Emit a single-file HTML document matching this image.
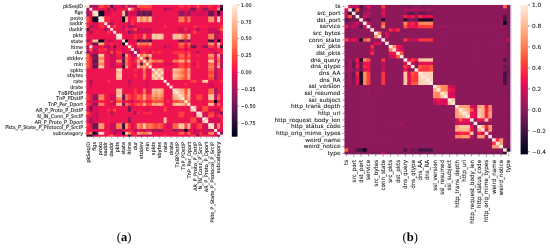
<!DOCTYPE html>
<html><head><meta charset="utf-8"><title>Correlation heatmaps</title>
<style>html,body{margin:0;padding:0;background:#fff;overflow:hidden}svg{display:block}text{text-rendering:geometricPrecision}</style></head>
<body>
<svg width="550" height="249" viewBox="0 0 550 249">
<defs><linearGradient id="rk" x1="0" y1="0" x2="0" y2="1"><stop offset="0.0000" stop-color="#ffebdd"/><stop offset="0.0312" stop-color="#ffe1ce"/><stop offset="0.0625" stop-color="#ffd6bc"/><stop offset="0.0938" stop-color="#ffcaaa"/><stop offset="0.1250" stop-color="#ffbe99"/><stop offset="0.1562" stop-color="#ffb188"/><stop offset="0.1875" stop-color="#ffa479"/><stop offset="0.2188" stop-color="#ff976a"/><stop offset="0.2500" stop-color="#ff895d"/><stop offset="0.2812" stop-color="#ff7b51"/><stop offset="0.3125" stop-color="#ff6c46"/><stop offset="0.3438" stop-color="#ff5c3e"/><stop offset="0.3750" stop-color="#ff4b3b"/><stop offset="0.4062" stop-color="#ff3a3d"/><stop offset="0.4375" stop-color="#ff2c42"/><stop offset="0.4688" stop-color="#f91e49"/><stop offset="0.5000" stop-color="#ed1450"/><stop offset="0.5312" stop-color="#df0f55"/><stop offset="0.5625" stop-color="#d00f59"/><stop offset="0.5938" stop-color="#c1125c"/><stop offset="0.6250" stop-color="#b0155d"/><stop offset="0.6562" stop-color="#a0175c"/><stop offset="0.6875" stop-color="#90195a"/><stop offset="0.7188" stop-color="#801958"/><stop offset="0.7500" stop-color="#711954"/><stop offset="0.7812" stop-color="#61184e"/><stop offset="0.8125" stop-color="#511648"/><stop offset="0.8438" stop-color="#421341"/><stop offset="0.8750" stop-color="#331038"/><stop offset="0.9062" stop-color="#240c2f"/><stop offset="0.9375" stop-color="#140726"/><stop offset="0.9688" stop-color="#05031c"/><stop offset="1.0000" stop-color="#000013"/></linearGradient></defs>
<rect width="550" height="249" fill="#fff"/>
<g>
<rect x="86.40" y="4.90" width="3.97" height="3.88" fill="#ffebdd"/>
<rect x="89.37" y="4.90" width="9.91" height="3.88" fill="#a6175d"/>
<rect x="98.28" y="4.90" width="6.94" height="3.88" fill="#ff4b3b"/>
<rect x="104.22" y="4.90" width="3.97" height="3.88" fill="#f91e49"/>
<rect x="107.19" y="4.90" width="3.97" height="3.88" fill="#ff3140"/>
<rect x="110.16" y="4.90" width="3.97" height="3.88" fill="#511648"/>
<rect x="113.13" y="4.90" width="9.91" height="3.88" fill="#ed1450"/>
<rect x="122.04" y="4.90" width="3.97" height="3.88" fill="#a2175c"/>
<rect x="125.01" y="4.90" width="3.97" height="3.88" fill="#ff3140"/>
<rect x="127.98" y="4.90" width="3.97" height="3.88" fill="#b0155d"/>
<rect x="130.95" y="4.90" width="3.97" height="3.88" fill="#d60f58"/>
<rect x="133.92" y="4.90" width="3.97" height="3.88" fill="#a6175d"/>
<rect x="136.89" y="4.90" width="3.97" height="3.88" fill="#ff6844"/>
<rect x="139.86" y="4.90" width="12.88" height="3.88" fill="#ff513b"/>
<rect x="151.74" y="4.90" width="27.73" height="3.88" fill="#ed1450"/>
<rect x="178.47" y="4.90" width="6.94" height="3.88" fill="#ff3140"/>
<rect x="184.41" y="4.90" width="3.97" height="3.88" fill="#ed1450"/>
<rect x="187.38" y="4.90" width="3.97" height="3.88" fill="#ff3140"/>
<rect x="190.35" y="4.90" width="6.94" height="3.88" fill="#ed1450"/>
<rect x="196.29" y="4.90" width="3.97" height="3.88" fill="#ff4b3b"/>
<rect x="199.26" y="4.90" width="9.91" height="3.88" fill="#ed1450"/>
<rect x="208.17" y="4.90" width="3.97" height="3.88" fill="#ff3140"/>
<rect x="211.14" y="4.90" width="3.97" height="3.88" fill="#f91e49"/>
<rect x="214.11" y="4.90" width="3.97" height="3.88" fill="#ed1450"/>
<rect x="217.08" y="4.90" width="3.97" height="3.88" fill="#ff3140"/>
<rect x="220.05" y="4.90" width="3.97" height="3.88" fill="#511648"/>
<rect x="86.40" y="7.79" width="3.97" height="3.88" fill="#a6175d"/>
<rect x="89.37" y="7.79" width="3.97" height="3.88" fill="#ffebdd"/>
<rect x="92.34" y="7.79" width="6.94" height="3.88" fill="#d60f58"/>
<rect x="98.28" y="7.79" width="9.91" height="3.88" fill="#ed1450"/>
<rect x="107.19" y="7.79" width="3.97" height="3.88" fill="#9c185c"/>
<rect x="110.16" y="7.79" width="3.97" height="3.88" fill="#ed1450"/>
<rect x="113.13" y="7.79" width="3.97" height="3.88" fill="#94185b"/>
<rect x="116.10" y="7.79" width="9.91" height="3.88" fill="#ed1450"/>
<rect x="125.01" y="7.79" width="3.97" height="3.88" fill="#f41a4c"/>
<rect x="127.98" y="7.79" width="3.97" height="3.88" fill="#ffddc7"/>
<rect x="130.95" y="7.79" width="3.97" height="3.88" fill="#ff6844"/>
<rect x="133.92" y="7.79" width="3.97" height="3.88" fill="#ed1450"/>
<rect x="136.89" y="7.79" width="3.97" height="3.88" fill="#bb135c"/>
<rect x="139.86" y="7.79" width="12.88" height="3.88" fill="#fb2247"/>
<rect x="151.74" y="7.79" width="12.88" height="3.88" fill="#ed1450"/>
<rect x="163.62" y="7.79" width="3.97" height="3.88" fill="#a2175c"/>
<rect x="166.59" y="7.79" width="6.94" height="3.88" fill="#d20f59"/>
<rect x="172.53" y="7.79" width="18.82" height="3.88" fill="#ed1450"/>
<rect x="190.35" y="7.79" width="6.94" height="3.88" fill="#801958"/>
<rect x="196.29" y="7.79" width="6.94" height="3.88" fill="#ed1450"/>
<rect x="202.23" y="7.79" width="6.94" height="3.88" fill="#98185b"/>
<rect x="208.17" y="7.79" width="9.91" height="3.88" fill="#ed1450"/>
<rect x="217.08" y="7.79" width="3.97" height="3.88" fill="#ff8055"/>
<rect x="220.05" y="7.79" width="3.97" height="3.88" fill="#1a0929"/>
<rect x="86.40" y="10.67" width="3.97" height="3.88" fill="#a6175d"/>
<rect x="89.37" y="10.67" width="3.97" height="3.88" fill="#d60f58"/>
<rect x="92.34" y="10.67" width="3.97" height="3.88" fill="#ffebdd"/>
<rect x="95.31" y="10.67" width="3.97" height="3.88" fill="#ffcdaf"/>
<rect x="98.28" y="10.67" width="6.94" height="3.88" fill="#0d0521"/>
<rect x="104.22" y="10.67" width="3.97" height="3.88" fill="#df0f55"/>
<rect x="107.19" y="10.67" width="3.97" height="3.88" fill="#c8115b"/>
<rect x="110.16" y="10.67" width="12.88" height="3.88" fill="#ed1450"/>
<rect x="122.04" y="10.67" width="3.97" height="3.88" fill="#ffbc97"/>
<rect x="125.01" y="10.67" width="3.97" height="3.88" fill="#6d1952"/>
<rect x="127.98" y="10.67" width="3.97" height="3.88" fill="#df0f55"/>
<rect x="130.95" y="10.67" width="3.97" height="3.88" fill="#c8115b"/>
<rect x="133.92" y="10.67" width="3.97" height="3.88" fill="#ce105a"/>
<rect x="136.89" y="10.67" width="3.97" height="3.88" fill="#721954"/>
<rect x="139.86" y="10.67" width="3.97" height="3.88" fill="#7c1957"/>
<rect x="142.83" y="10.67" width="3.97" height="3.88" fill="#5f174e"/>
<rect x="145.80" y="10.67" width="3.97" height="3.88" fill="#7c1957"/>
<rect x="148.77" y="10.67" width="3.97" height="3.88" fill="#5f174e"/>
<rect x="151.74" y="10.67" width="27.73" height="3.88" fill="#ed1450"/>
<rect x="178.47" y="10.67" width="6.94" height="3.88" fill="#94185b"/>
<rect x="184.41" y="10.67" width="3.97" height="3.88" fill="#d60f58"/>
<rect x="187.38" y="10.67" width="3.97" height="3.88" fill="#94185b"/>
<rect x="190.35" y="10.67" width="18.82" height="3.88" fill="#dc0f57"/>
<rect x="208.17" y="10.67" width="6.94" height="3.88" fill="#691851"/>
<rect x="214.11" y="10.67" width="3.97" height="3.88" fill="#df0f55"/>
<rect x="217.08" y="10.67" width="3.97" height="3.88" fill="#0d0521"/>
<rect x="220.05" y="10.67" width="3.97" height="3.88" fill="#c8115b"/>
<rect x="86.40" y="13.55" width="3.97" height="3.88" fill="#a6175d"/>
<rect x="89.37" y="13.55" width="3.97" height="3.88" fill="#d60f58"/>
<rect x="92.34" y="13.55" width="3.97" height="3.88" fill="#ffcdaf"/>
<rect x="95.31" y="13.55" width="3.97" height="3.88" fill="#ffebdd"/>
<rect x="98.28" y="13.55" width="6.94" height="3.88" fill="#0d0521"/>
<rect x="104.22" y="13.55" width="6.94" height="3.88" fill="#df0f55"/>
<rect x="110.16" y="13.55" width="3.97" height="3.88" fill="#ed1450"/>
<rect x="113.13" y="13.55" width="3.97" height="3.88" fill="#f91e49"/>
<rect x="116.10" y="13.55" width="6.94" height="3.88" fill="#ed1450"/>
<rect x="122.04" y="13.55" width="3.97" height="3.88" fill="#ffbc97"/>
<rect x="125.01" y="13.55" width="3.97" height="3.88" fill="#6d1952"/>
<rect x="127.98" y="13.55" width="3.97" height="3.88" fill="#df0f55"/>
<rect x="130.95" y="13.55" width="3.97" height="3.88" fill="#c8115b"/>
<rect x="133.92" y="13.55" width="3.97" height="3.88" fill="#ce105a"/>
<rect x="136.89" y="13.55" width="3.97" height="3.88" fill="#721954"/>
<rect x="139.86" y="13.55" width="3.97" height="3.88" fill="#7c1957"/>
<rect x="142.83" y="13.55" width="3.97" height="3.88" fill="#5f174e"/>
<rect x="145.80" y="13.55" width="3.97" height="3.88" fill="#7c1957"/>
<rect x="148.77" y="13.55" width="3.97" height="3.88" fill="#5f174e"/>
<rect x="151.74" y="13.55" width="27.73" height="3.88" fill="#ed1450"/>
<rect x="178.47" y="13.55" width="6.94" height="3.88" fill="#94185b"/>
<rect x="184.41" y="13.55" width="3.97" height="3.88" fill="#d60f58"/>
<rect x="187.38" y="13.55" width="3.97" height="3.88" fill="#94185b"/>
<rect x="190.35" y="13.55" width="6.94" height="3.88" fill="#dc0f57"/>
<rect x="196.29" y="13.55" width="6.94" height="3.88" fill="#c8115b"/>
<rect x="202.23" y="13.55" width="6.94" height="3.88" fill="#dc0f57"/>
<rect x="208.17" y="13.55" width="6.94" height="3.88" fill="#691851"/>
<rect x="214.11" y="13.55" width="3.97" height="3.88" fill="#df0f55"/>
<rect x="217.08" y="13.55" width="3.97" height="3.88" fill="#511648"/>
<rect x="220.05" y="13.55" width="3.97" height="3.88" fill="#c8115b"/>
<rect x="86.40" y="16.44" width="3.97" height="3.88" fill="#ff4b3b"/>
<rect x="89.37" y="16.44" width="3.97" height="3.88" fill="#ed1450"/>
<rect x="92.34" y="16.44" width="6.94" height="3.88" fill="#0d0521"/>
<rect x="98.28" y="16.44" width="3.97" height="3.88" fill="#ffebdd"/>
<rect x="101.25" y="16.44" width="3.97" height="3.88" fill="#ffe0cc"/>
<rect x="104.22" y="16.44" width="3.97" height="3.88" fill="#fb2247"/>
<rect x="107.19" y="16.44" width="3.97" height="3.88" fill="#ff2c42"/>
<rect x="110.16" y="16.44" width="12.88" height="3.88" fill="#ed1450"/>
<rect x="122.04" y="16.44" width="3.97" height="3.88" fill="#04021b"/>
<rect x="125.01" y="16.44" width="3.97" height="3.88" fill="#ffa67b"/>
<rect x="127.98" y="16.44" width="3.97" height="3.88" fill="#ed1450"/>
<rect x="130.95" y="16.44" width="3.97" height="3.88" fill="#ff2645"/>
<rect x="133.92" y="16.44" width="3.97" height="3.88" fill="#f91e49"/>
<rect x="136.89" y="16.44" width="3.97" height="3.88" fill="#ffc4a1"/>
<rect x="139.86" y="16.44" width="3.97" height="3.88" fill="#ff865a"/>
<rect x="142.83" y="16.44" width="3.97" height="3.88" fill="#ffb38a"/>
<rect x="145.80" y="16.44" width="3.97" height="3.88" fill="#ff865a"/>
<rect x="148.77" y="16.44" width="3.97" height="3.88" fill="#ffc4a1"/>
<rect x="151.74" y="16.44" width="27.73" height="3.88" fill="#ed1450"/>
<rect x="178.47" y="16.44" width="6.94" height="3.88" fill="#ff8055"/>
<rect x="184.41" y="16.44" width="3.97" height="3.88" fill="#f91e49"/>
<rect x="187.38" y="16.44" width="3.97" height="3.88" fill="#ff8055"/>
<rect x="190.35" y="16.44" width="18.82" height="3.88" fill="#ed1450"/>
<rect x="208.17" y="16.44" width="6.94" height="3.88" fill="#ff996c"/>
<rect x="214.11" y="16.44" width="3.97" height="3.88" fill="#ed1450"/>
<rect x="217.08" y="16.44" width="3.97" height="3.88" fill="#ffd8c1"/>
<rect x="220.05" y="16.44" width="3.97" height="3.88" fill="#f41a4c"/>
<rect x="86.40" y="19.32" width="3.97" height="3.88" fill="#ff4b3b"/>
<rect x="89.37" y="19.32" width="3.97" height="3.88" fill="#ed1450"/>
<rect x="92.34" y="19.32" width="6.94" height="3.88" fill="#0d0521"/>
<rect x="98.28" y="19.32" width="3.97" height="3.88" fill="#ffe0cc"/>
<rect x="101.25" y="19.32" width="3.97" height="3.88" fill="#ffebdd"/>
<rect x="104.22" y="19.32" width="3.97" height="3.88" fill="#fb2247"/>
<rect x="107.19" y="19.32" width="3.97" height="3.88" fill="#ff2c42"/>
<rect x="110.16" y="19.32" width="12.88" height="3.88" fill="#ed1450"/>
<rect x="122.04" y="19.32" width="3.97" height="3.88" fill="#04021b"/>
<rect x="125.01" y="19.32" width="3.97" height="3.88" fill="#ffa67b"/>
<rect x="127.98" y="19.32" width="3.97" height="3.88" fill="#ed1450"/>
<rect x="130.95" y="19.32" width="3.97" height="3.88" fill="#ff2645"/>
<rect x="133.92" y="19.32" width="3.97" height="3.88" fill="#f91e49"/>
<rect x="136.89" y="19.32" width="3.97" height="3.88" fill="#ffc4a1"/>
<rect x="139.86" y="19.32" width="3.97" height="3.88" fill="#ff865a"/>
<rect x="142.83" y="19.32" width="3.97" height="3.88" fill="#ffb38a"/>
<rect x="145.80" y="19.32" width="3.97" height="3.88" fill="#ff865a"/>
<rect x="148.77" y="19.32" width="3.97" height="3.88" fill="#ffc4a1"/>
<rect x="151.74" y="19.32" width="27.73" height="3.88" fill="#ed1450"/>
<rect x="178.47" y="19.32" width="6.94" height="3.88" fill="#ff8055"/>
<rect x="184.41" y="19.32" width="3.97" height="3.88" fill="#f91e49"/>
<rect x="187.38" y="19.32" width="3.97" height="3.88" fill="#ff8055"/>
<rect x="190.35" y="19.32" width="18.82" height="3.88" fill="#ed1450"/>
<rect x="208.17" y="19.32" width="6.94" height="3.88" fill="#ff996c"/>
<rect x="214.11" y="19.32" width="3.97" height="3.88" fill="#ed1450"/>
<rect x="217.08" y="19.32" width="3.97" height="3.88" fill="#ffd8c1"/>
<rect x="220.05" y="19.32" width="3.97" height="3.88" fill="#f41a4c"/>
<rect x="86.40" y="22.21" width="3.97" height="3.88" fill="#f91e49"/>
<rect x="89.37" y="22.21" width="3.97" height="3.88" fill="#ed1450"/>
<rect x="92.34" y="22.21" width="6.94" height="3.88" fill="#df0f55"/>
<rect x="98.28" y="22.21" width="6.94" height="3.88" fill="#fb2247"/>
<rect x="104.22" y="22.21" width="3.97" height="3.88" fill="#ffebdd"/>
<rect x="107.19" y="22.21" width="3.97" height="3.88" fill="#ed1450"/>
<rect x="110.16" y="22.21" width="3.97" height="3.88" fill="#9c185c"/>
<rect x="113.13" y="22.21" width="15.85" height="3.88" fill="#ed1450"/>
<rect x="127.98" y="22.21" width="3.97" height="3.88" fill="#c8115b"/>
<rect x="130.95" y="22.21" width="3.97" height="3.88" fill="#ff3140"/>
<rect x="133.92" y="22.21" width="45.55" height="3.88" fill="#ed1450"/>
<rect x="178.47" y="22.21" width="12.88" height="3.88" fill="#f41a4c"/>
<rect x="190.35" y="22.21" width="33.67" height="3.88" fill="#ed1450"/>
<rect x="86.40" y="25.09" width="3.97" height="3.88" fill="#ff3140"/>
<rect x="89.37" y="25.09" width="3.97" height="3.88" fill="#9c185c"/>
<rect x="92.34" y="25.09" width="3.97" height="3.88" fill="#c8115b"/>
<rect x="95.31" y="25.09" width="3.97" height="3.88" fill="#df0f55"/>
<rect x="98.28" y="25.09" width="6.94" height="3.88" fill="#ff2c42"/>
<rect x="104.22" y="25.09" width="3.97" height="3.88" fill="#ed1450"/>
<rect x="107.19" y="25.09" width="3.97" height="3.88" fill="#ffebdd"/>
<rect x="110.16" y="25.09" width="3.97" height="3.88" fill="#ed1450"/>
<rect x="113.13" y="25.09" width="3.97" height="3.88" fill="#ff3a3d"/>
<rect x="116.10" y="25.09" width="6.94" height="3.88" fill="#ed1450"/>
<rect x="122.04" y="25.09" width="3.97" height="3.88" fill="#c8115b"/>
<rect x="125.01" y="25.09" width="3.97" height="3.88" fill="#ed1450"/>
<rect x="127.98" y="25.09" width="3.97" height="3.88" fill="#a6175d"/>
<rect x="130.95" y="25.09" width="3.97" height="3.88" fill="#c8115b"/>
<rect x="133.92" y="25.09" width="3.97" height="3.88" fill="#d60f58"/>
<rect x="136.89" y="25.09" width="27.73" height="3.88" fill="#ed1450"/>
<rect x="163.62" y="25.09" width="3.97" height="3.88" fill="#ff2c42"/>
<rect x="166.59" y="25.09" width="27.73" height="3.88" fill="#ed1450"/>
<rect x="193.32" y="25.09" width="3.97" height="3.88" fill="#ff3140"/>
<rect x="196.29" y="25.09" width="12.88" height="3.88" fill="#f41a4c"/>
<rect x="208.17" y="25.09" width="12.88" height="3.88" fill="#ed1450"/>
<rect x="220.05" y="25.09" width="3.97" height="3.88" fill="#ff3140"/>
<rect x="86.40" y="27.98" width="3.97" height="3.88" fill="#511648"/>
<rect x="89.37" y="27.98" width="15.85" height="3.88" fill="#ed1450"/>
<rect x="104.22" y="27.98" width="3.97" height="3.88" fill="#9c185c"/>
<rect x="107.19" y="27.98" width="3.97" height="3.88" fill="#ed1450"/>
<rect x="110.16" y="27.98" width="3.97" height="3.88" fill="#ffebdd"/>
<rect x="113.13" y="27.98" width="9.91" height="3.88" fill="#ed1450"/>
<rect x="122.04" y="27.98" width="3.97" height="3.88" fill="#c8115b"/>
<rect x="125.01" y="27.98" width="3.97" height="3.88" fill="#ff2645"/>
<rect x="127.98" y="27.98" width="6.94" height="3.88" fill="#ed1450"/>
<rect x="133.92" y="27.98" width="3.97" height="3.88" fill="#ff4b3b"/>
<rect x="136.89" y="27.98" width="3.97" height="3.88" fill="#b0155d"/>
<rect x="139.86" y="27.98" width="6.94" height="3.88" fill="#d60f58"/>
<rect x="145.80" y="27.98" width="6.94" height="3.88" fill="#c8115b"/>
<rect x="151.74" y="27.98" width="27.73" height="3.88" fill="#ed1450"/>
<rect x="178.47" y="27.98" width="3.97" height="3.88" fill="#d20f59"/>
<rect x="181.44" y="27.98" width="3.97" height="3.88" fill="#c8115b"/>
<rect x="184.41" y="27.98" width="3.97" height="3.88" fill="#ff3140"/>
<rect x="187.38" y="27.98" width="3.97" height="3.88" fill="#d20f59"/>
<rect x="190.35" y="27.98" width="6.94" height="3.88" fill="#ed1450"/>
<rect x="196.29" y="27.98" width="3.97" height="3.88" fill="#a6175d"/>
<rect x="199.26" y="27.98" width="9.91" height="3.88" fill="#ed1450"/>
<rect x="208.17" y="27.98" width="6.94" height="3.88" fill="#c8115b"/>
<rect x="214.11" y="27.98" width="3.97" height="3.88" fill="#ce105a"/>
<rect x="217.08" y="27.98" width="3.97" height="3.88" fill="#ed1450"/>
<rect x="220.05" y="27.98" width="3.97" height="3.88" fill="#ff6844"/>
<rect x="86.40" y="30.86" width="3.97" height="3.88" fill="#ed1450"/>
<rect x="89.37" y="30.86" width="3.97" height="3.88" fill="#94185b"/>
<rect x="92.34" y="30.86" width="3.97" height="3.88" fill="#ed1450"/>
<rect x="95.31" y="30.86" width="3.97" height="3.88" fill="#f91e49"/>
<rect x="98.28" y="30.86" width="9.91" height="3.88" fill="#ed1450"/>
<rect x="107.19" y="30.86" width="3.97" height="3.88" fill="#ff3a3d"/>
<rect x="110.16" y="30.86" width="3.97" height="3.88" fill="#ed1450"/>
<rect x="113.13" y="30.86" width="3.97" height="3.88" fill="#ffebdd"/>
<rect x="116.10" y="30.86" width="12.88" height="3.88" fill="#ed1450"/>
<rect x="127.98" y="30.86" width="3.97" height="3.88" fill="#801958"/>
<rect x="130.95" y="30.86" width="3.97" height="3.88" fill="#c8115b"/>
<rect x="133.92" y="30.86" width="18.82" height="3.88" fill="#d60f58"/>
<rect x="151.74" y="30.86" width="27.73" height="3.88" fill="#ed1450"/>
<rect x="178.47" y="30.86" width="12.88" height="3.88" fill="#d60f58"/>
<rect x="190.35" y="30.86" width="3.97" height="3.88" fill="#ed1450"/>
<rect x="193.32" y="30.86" width="3.97" height="3.88" fill="#ff4b3b"/>
<rect x="196.29" y="30.86" width="12.88" height="3.88" fill="#ed1450"/>
<rect x="208.17" y="30.86" width="9.91" height="3.88" fill="#ce105a"/>
<rect x="217.08" y="30.86" width="3.97" height="3.88" fill="#98185b"/>
<rect x="220.05" y="30.86" width="3.97" height="3.88" fill="#f41a4c"/>
<rect x="86.40" y="33.75" width="30.70" height="3.88" fill="#ed1450"/>
<rect x="116.10" y="33.75" width="3.97" height="3.88" fill="#ffebdd"/>
<rect x="119.07" y="33.75" width="3.97" height="3.88" fill="#ffddc7"/>
<rect x="122.04" y="33.75" width="12.88" height="3.88" fill="#ed1450"/>
<rect x="133.92" y="33.75" width="3.97" height="3.88" fill="#ff3140"/>
<rect x="136.89" y="33.75" width="3.97" height="3.88" fill="#f41a4c"/>
<rect x="139.86" y="33.75" width="3.97" height="3.88" fill="#ed1450"/>
<rect x="142.83" y="33.75" width="3.97" height="3.88" fill="#ff8055"/>
<rect x="145.80" y="33.75" width="3.97" height="3.88" fill="#f41a4c"/>
<rect x="148.77" y="33.75" width="3.97" height="3.88" fill="#ed1450"/>
<rect x="151.74" y="33.75" width="3.97" height="3.88" fill="#ffd0b3"/>
<rect x="154.71" y="33.75" width="3.97" height="3.88" fill="#ffb890"/>
<rect x="157.68" y="33.75" width="3.97" height="3.88" fill="#ffd0b3"/>
<rect x="160.65" y="33.75" width="3.97" height="3.88" fill="#ffb890"/>
<rect x="163.62" y="33.75" width="9.91" height="3.88" fill="#ed1450"/>
<rect x="172.53" y="33.75" width="3.97" height="3.88" fill="#ffc4a1"/>
<rect x="175.50" y="33.75" width="3.97" height="3.88" fill="#ffb890"/>
<rect x="178.47" y="33.75" width="3.97" height="3.88" fill="#ffc4a1"/>
<rect x="181.44" y="33.75" width="3.97" height="3.88" fill="#ff865a"/>
<rect x="184.41" y="33.75" width="3.97" height="3.88" fill="#ff4b3b"/>
<rect x="187.38" y="33.75" width="3.97" height="3.88" fill="#ffb38a"/>
<rect x="190.35" y="33.75" width="18.82" height="3.88" fill="#ed1450"/>
<rect x="208.17" y="33.75" width="6.94" height="3.88" fill="#ff8055"/>
<rect x="214.11" y="33.75" width="3.97" height="3.88" fill="#b0155d"/>
<rect x="217.08" y="33.75" width="3.97" height="3.88" fill="#df0f55"/>
<rect x="220.05" y="33.75" width="3.97" height="3.88" fill="#ed1450"/>
<rect x="86.40" y="36.63" width="30.70" height="3.88" fill="#ed1450"/>
<rect x="116.10" y="36.63" width="3.97" height="3.88" fill="#ffddc7"/>
<rect x="119.07" y="36.63" width="3.97" height="3.88" fill="#ffebdd"/>
<rect x="122.04" y="36.63" width="12.88" height="3.88" fill="#ed1450"/>
<rect x="133.92" y="36.63" width="3.97" height="3.88" fill="#ff3140"/>
<rect x="136.89" y="36.63" width="3.97" height="3.88" fill="#f41a4c"/>
<rect x="139.86" y="36.63" width="3.97" height="3.88" fill="#ed1450"/>
<rect x="142.83" y="36.63" width="3.97" height="3.88" fill="#ff8055"/>
<rect x="145.80" y="36.63" width="3.97" height="3.88" fill="#f41a4c"/>
<rect x="148.77" y="36.63" width="3.97" height="3.88" fill="#ed1450"/>
<rect x="151.74" y="36.63" width="3.97" height="3.88" fill="#ffd0b3"/>
<rect x="154.71" y="36.63" width="3.97" height="3.88" fill="#ffb890"/>
<rect x="157.68" y="36.63" width="3.97" height="3.88" fill="#ffd0b3"/>
<rect x="160.65" y="36.63" width="3.97" height="3.88" fill="#ffb890"/>
<rect x="163.62" y="36.63" width="9.91" height="3.88" fill="#ed1450"/>
<rect x="172.53" y="36.63" width="3.97" height="3.88" fill="#ffc4a1"/>
<rect x="175.50" y="36.63" width="3.97" height="3.88" fill="#ffb890"/>
<rect x="178.47" y="36.63" width="3.97" height="3.88" fill="#ffc4a1"/>
<rect x="181.44" y="36.63" width="3.97" height="3.88" fill="#ff865a"/>
<rect x="184.41" y="36.63" width="3.97" height="3.88" fill="#ff4b3b"/>
<rect x="187.38" y="36.63" width="3.97" height="3.88" fill="#ffb38a"/>
<rect x="190.35" y="36.63" width="18.82" height="3.88" fill="#ed1450"/>
<rect x="208.17" y="36.63" width="6.94" height="3.88" fill="#ff8055"/>
<rect x="214.11" y="36.63" width="3.97" height="3.88" fill="#b0155d"/>
<rect x="217.08" y="36.63" width="3.97" height="3.88" fill="#df0f55"/>
<rect x="220.05" y="36.63" width="3.97" height="3.88" fill="#ed1450"/>
<rect x="86.40" y="39.52" width="3.97" height="3.88" fill="#a2175c"/>
<rect x="89.37" y="39.52" width="3.97" height="3.88" fill="#ed1450"/>
<rect x="92.34" y="39.52" width="6.94" height="3.88" fill="#ffbc97"/>
<rect x="98.28" y="39.52" width="6.94" height="3.88" fill="#04021b"/>
<rect x="104.22" y="39.52" width="3.97" height="3.88" fill="#ed1450"/>
<rect x="107.19" y="39.52" width="6.94" height="3.88" fill="#c8115b"/>
<rect x="113.13" y="39.52" width="9.91" height="3.88" fill="#ed1450"/>
<rect x="122.04" y="39.52" width="3.97" height="3.88" fill="#ffebdd"/>
<rect x="125.01" y="39.52" width="3.97" height="3.88" fill="#04021b"/>
<rect x="127.98" y="39.52" width="9.91" height="3.88" fill="#df0f55"/>
<rect x="136.89" y="39.52" width="3.97" height="3.88" fill="#3a123d"/>
<rect x="139.86" y="39.52" width="3.97" height="3.88" fill="#801958"/>
<rect x="142.83" y="39.52" width="3.97" height="3.88" fill="#511648"/>
<rect x="145.80" y="39.52" width="3.97" height="3.88" fill="#801958"/>
<rect x="148.77" y="39.52" width="3.97" height="3.88" fill="#3a123d"/>
<rect x="151.74" y="39.52" width="27.73" height="3.88" fill="#ed1450"/>
<rect x="178.47" y="39.52" width="6.94" height="3.88" fill="#691851"/>
<rect x="184.41" y="39.52" width="3.97" height="3.88" fill="#df0f55"/>
<rect x="187.38" y="39.52" width="3.97" height="3.88" fill="#761955"/>
<rect x="190.35" y="39.52" width="18.82" height="3.88" fill="#ed1450"/>
<rect x="208.17" y="39.52" width="6.94" height="3.88" fill="#3a123d"/>
<rect x="214.11" y="39.52" width="3.97" height="3.88" fill="#df0f55"/>
<rect x="217.08" y="39.52" width="3.97" height="3.88" fill="#04021b"/>
<rect x="220.05" y="39.52" width="3.97" height="3.88" fill="#df0f55"/>
<rect x="86.40" y="42.40" width="3.97" height="3.88" fill="#ff3140"/>
<rect x="89.37" y="42.40" width="3.97" height="3.88" fill="#f41a4c"/>
<rect x="92.34" y="42.40" width="6.94" height="3.88" fill="#6d1952"/>
<rect x="98.28" y="42.40" width="6.94" height="3.88" fill="#ffa67b"/>
<rect x="104.22" y="42.40" width="6.94" height="3.88" fill="#ed1450"/>
<rect x="110.16" y="42.40" width="3.97" height="3.88" fill="#ff2645"/>
<rect x="113.13" y="42.40" width="9.91" height="3.88" fill="#ed1450"/>
<rect x="122.04" y="42.40" width="3.97" height="3.88" fill="#04021b"/>
<rect x="125.01" y="42.40" width="3.97" height="3.88" fill="#ffebdd"/>
<rect x="127.98" y="42.40" width="9.91" height="3.88" fill="#ed1450"/>
<rect x="136.89" y="42.40" width="3.97" height="3.88" fill="#ff996c"/>
<rect x="139.86" y="42.40" width="3.97" height="3.88" fill="#ff6844"/>
<rect x="142.83" y="42.40" width="3.97" height="3.88" fill="#ff8055"/>
<rect x="145.80" y="42.40" width="3.97" height="3.88" fill="#ff6844"/>
<rect x="148.77" y="42.40" width="3.97" height="3.88" fill="#ff996c"/>
<rect x="151.74" y="42.40" width="27.73" height="3.88" fill="#ed1450"/>
<rect x="178.47" y="42.40" width="6.94" height="3.88" fill="#ff6844"/>
<rect x="184.41" y="42.40" width="3.97" height="3.88" fill="#f41a4c"/>
<rect x="187.38" y="42.40" width="3.97" height="3.88" fill="#ff6844"/>
<rect x="190.35" y="42.40" width="18.82" height="3.88" fill="#ed1450"/>
<rect x="208.17" y="42.40" width="6.94" height="3.88" fill="#ff9064"/>
<rect x="214.11" y="42.40" width="3.97" height="3.88" fill="#ed1450"/>
<rect x="217.08" y="42.40" width="3.97" height="3.88" fill="#ffc4a1"/>
<rect x="220.05" y="42.40" width="3.97" height="3.88" fill="#f41a4c"/>
<rect x="86.40" y="45.29" width="3.97" height="3.88" fill="#b0155d"/>
<rect x="89.37" y="45.29" width="3.97" height="3.88" fill="#ffddc7"/>
<rect x="92.34" y="45.29" width="6.94" height="3.88" fill="#df0f55"/>
<rect x="98.28" y="45.29" width="6.94" height="3.88" fill="#ed1450"/>
<rect x="104.22" y="45.29" width="3.97" height="3.88" fill="#c8115b"/>
<rect x="107.19" y="45.29" width="3.97" height="3.88" fill="#a6175d"/>
<rect x="110.16" y="45.29" width="3.97" height="3.88" fill="#ed1450"/>
<rect x="113.13" y="45.29" width="3.97" height="3.88" fill="#801958"/>
<rect x="116.10" y="45.29" width="6.94" height="3.88" fill="#ed1450"/>
<rect x="122.04" y="45.29" width="3.97" height="3.88" fill="#df0f55"/>
<rect x="125.01" y="45.29" width="3.97" height="3.88" fill="#ed1450"/>
<rect x="127.98" y="45.29" width="3.97" height="3.88" fill="#ffebdd"/>
<rect x="130.95" y="45.29" width="3.97" height="3.88" fill="#ff2645"/>
<rect x="133.92" y="45.29" width="3.97" height="3.88" fill="#ce105a"/>
<rect x="136.89" y="45.29" width="15.85" height="3.88" fill="#ff2645"/>
<rect x="151.74" y="45.29" width="12.88" height="3.88" fill="#ed1450"/>
<rect x="163.62" y="45.29" width="3.97" height="3.88" fill="#b0155d"/>
<rect x="166.59" y="45.29" width="6.94" height="3.88" fill="#e41053"/>
<rect x="172.53" y="45.29" width="6.94" height="3.88" fill="#ed1450"/>
<rect x="178.47" y="45.29" width="6.94" height="3.88" fill="#ff403c"/>
<rect x="184.41" y="45.29" width="3.97" height="3.88" fill="#df0f55"/>
<rect x="187.38" y="45.29" width="3.97" height="3.88" fill="#ff403c"/>
<rect x="190.35" y="45.29" width="3.97" height="3.88" fill="#801958"/>
<rect x="193.32" y="45.29" width="3.97" height="3.88" fill="#691851"/>
<rect x="196.29" y="45.29" width="6.94" height="3.88" fill="#ed1450"/>
<rect x="202.23" y="45.29" width="6.94" height="3.88" fill="#98185b"/>
<rect x="208.17" y="45.29" width="6.94" height="3.88" fill="#ff3140"/>
<rect x="214.11" y="45.29" width="3.97" height="3.88" fill="#ed1450"/>
<rect x="217.08" y="45.29" width="3.97" height="3.88" fill="#ff8055"/>
<rect x="220.05" y="45.29" width="3.97" height="3.88" fill="#3a123d"/>
<rect x="86.40" y="48.17" width="3.97" height="3.88" fill="#d60f58"/>
<rect x="89.37" y="48.17" width="3.97" height="3.88" fill="#ff6844"/>
<rect x="92.34" y="48.17" width="6.94" height="3.88" fill="#c8115b"/>
<rect x="98.28" y="48.17" width="6.94" height="3.88" fill="#ff2645"/>
<rect x="104.22" y="48.17" width="3.97" height="3.88" fill="#ff3140"/>
<rect x="107.19" y="48.17" width="3.97" height="3.88" fill="#c8115b"/>
<rect x="110.16" y="48.17" width="3.97" height="3.88" fill="#ed1450"/>
<rect x="113.13" y="48.17" width="3.97" height="3.88" fill="#c8115b"/>
<rect x="116.10" y="48.17" width="6.94" height="3.88" fill="#ed1450"/>
<rect x="122.04" y="48.17" width="3.97" height="3.88" fill="#df0f55"/>
<rect x="125.01" y="48.17" width="3.97" height="3.88" fill="#ed1450"/>
<rect x="127.98" y="48.17" width="3.97" height="3.88" fill="#ff2645"/>
<rect x="130.95" y="48.17" width="3.97" height="3.88" fill="#ffebdd"/>
<rect x="133.92" y="48.17" width="3.97" height="3.88" fill="#b0155d"/>
<rect x="136.89" y="48.17" width="3.97" height="3.88" fill="#d60f58"/>
<rect x="139.86" y="48.17" width="39.61" height="3.88" fill="#ed1450"/>
<rect x="178.47" y="48.17" width="6.94" height="3.88" fill="#f41a4c"/>
<rect x="184.41" y="48.17" width="3.97" height="3.88" fill="#ce105a"/>
<rect x="187.38" y="48.17" width="3.97" height="3.88" fill="#f41a4c"/>
<rect x="190.35" y="48.17" width="18.82" height="3.88" fill="#ed1450"/>
<rect x="208.17" y="48.17" width="6.94" height="3.88" fill="#d20f59"/>
<rect x="214.11" y="48.17" width="3.97" height="3.88" fill="#ed1450"/>
<rect x="217.08" y="48.17" width="3.97" height="3.88" fill="#ff2645"/>
<rect x="220.05" y="48.17" width="3.97" height="3.88" fill="#ed1450"/>
<rect x="86.40" y="51.06" width="3.97" height="3.88" fill="#a6175d"/>
<rect x="89.37" y="51.06" width="3.97" height="3.88" fill="#ed1450"/>
<rect x="92.34" y="51.06" width="6.94" height="3.88" fill="#ce105a"/>
<rect x="98.28" y="51.06" width="6.94" height="3.88" fill="#f91e49"/>
<rect x="104.22" y="51.06" width="3.97" height="3.88" fill="#ed1450"/>
<rect x="107.19" y="51.06" width="3.97" height="3.88" fill="#d60f58"/>
<rect x="110.16" y="51.06" width="3.97" height="3.88" fill="#ff4b3b"/>
<rect x="113.13" y="51.06" width="3.97" height="3.88" fill="#d60f58"/>
<rect x="116.10" y="51.06" width="6.94" height="3.88" fill="#ff3140"/>
<rect x="122.04" y="51.06" width="3.97" height="3.88" fill="#df0f55"/>
<rect x="125.01" y="51.06" width="3.97" height="3.88" fill="#ed1450"/>
<rect x="127.98" y="51.06" width="3.97" height="3.88" fill="#ce105a"/>
<rect x="130.95" y="51.06" width="3.97" height="3.88" fill="#b0155d"/>
<rect x="133.92" y="51.06" width="3.97" height="3.88" fill="#ffebdd"/>
<rect x="136.89" y="51.06" width="3.97" height="3.88" fill="#bb135c"/>
<rect x="139.86" y="51.06" width="3.97" height="3.88" fill="#f41a4c"/>
<rect x="142.83" y="51.06" width="3.97" height="3.88" fill="#ff3140"/>
<rect x="145.80" y="51.06" width="3.97" height="3.88" fill="#ed1450"/>
<rect x="148.77" y="51.06" width="3.97" height="3.88" fill="#df0f55"/>
<rect x="151.74" y="51.06" width="3.97" height="3.88" fill="#ff3140"/>
<rect x="154.71" y="51.06" width="3.97" height="3.88" fill="#f0164e"/>
<rect x="157.68" y="51.06" width="3.97" height="3.88" fill="#ff3140"/>
<rect x="160.65" y="51.06" width="3.97" height="3.88" fill="#f0164e"/>
<rect x="163.62" y="51.06" width="9.91" height="3.88" fill="#ed1450"/>
<rect x="172.53" y="51.06" width="12.88" height="3.88" fill="#ff3140"/>
<rect x="184.41" y="51.06" width="3.97" height="3.88" fill="#f41a4c"/>
<rect x="187.38" y="51.06" width="3.97" height="3.88" fill="#ff3a3d"/>
<rect x="190.35" y="51.06" width="6.94" height="3.88" fill="#ed1450"/>
<rect x="196.29" y="51.06" width="3.97" height="3.88" fill="#b0155d"/>
<rect x="199.26" y="51.06" width="9.91" height="3.88" fill="#ed1450"/>
<rect x="208.17" y="51.06" width="6.94" height="3.88" fill="#f41a4c"/>
<rect x="214.11" y="51.06" width="3.97" height="3.88" fill="#bf125c"/>
<rect x="217.08" y="51.06" width="3.97" height="3.88" fill="#ed1450"/>
<rect x="220.05" y="51.06" width="3.97" height="3.88" fill="#ff3140"/>
<rect x="86.40" y="53.94" width="3.97" height="3.88" fill="#ff6844"/>
<rect x="89.37" y="53.94" width="3.97" height="3.88" fill="#bb135c"/>
<rect x="92.34" y="53.94" width="6.94" height="3.88" fill="#721954"/>
<rect x="98.28" y="53.94" width="6.94" height="3.88" fill="#ffc4a1"/>
<rect x="104.22" y="53.94" width="6.94" height="3.88" fill="#ed1450"/>
<rect x="110.16" y="53.94" width="3.97" height="3.88" fill="#b0155d"/>
<rect x="113.13" y="53.94" width="3.97" height="3.88" fill="#d60f58"/>
<rect x="116.10" y="53.94" width="6.94" height="3.88" fill="#f41a4c"/>
<rect x="122.04" y="53.94" width="3.97" height="3.88" fill="#3a123d"/>
<rect x="125.01" y="53.94" width="3.97" height="3.88" fill="#ff996c"/>
<rect x="127.98" y="53.94" width="3.97" height="3.88" fill="#ff2645"/>
<rect x="130.95" y="53.94" width="3.97" height="3.88" fill="#d60f58"/>
<rect x="133.92" y="53.94" width="3.97" height="3.88" fill="#bb135c"/>
<rect x="136.89" y="53.94" width="3.97" height="3.88" fill="#ffebdd"/>
<rect x="139.86" y="53.94" width="3.97" height="3.88" fill="#ff6844"/>
<rect x="142.83" y="53.94" width="3.97" height="3.88" fill="#ffb086"/>
<rect x="145.80" y="53.94" width="3.97" height="3.88" fill="#ff8055"/>
<rect x="148.77" y="53.94" width="3.97" height="3.88" fill="#ffc4a1"/>
<rect x="151.74" y="53.94" width="27.73" height="3.88" fill="#ed1450"/>
<rect x="178.47" y="53.94" width="6.94" height="3.88" fill="#ff6844"/>
<rect x="184.41" y="53.94" width="3.97" height="3.88" fill="#f41a4c"/>
<rect x="187.38" y="53.94" width="3.97" height="3.88" fill="#ff6844"/>
<rect x="190.35" y="53.94" width="6.94" height="3.88" fill="#ed1450"/>
<rect x="196.29" y="53.94" width="3.97" height="3.88" fill="#ff2645"/>
<rect x="199.26" y="53.94" width="9.91" height="3.88" fill="#ed1450"/>
<rect x="208.17" y="53.94" width="6.94" height="3.88" fill="#ff996c"/>
<rect x="214.11" y="53.94" width="3.97" height="3.88" fill="#df0f55"/>
<rect x="217.08" y="53.94" width="3.97" height="3.88" fill="#ffb086"/>
<rect x="220.05" y="53.94" width="3.97" height="3.88" fill="#b0155d"/>
<rect x="86.40" y="56.83" width="3.97" height="3.88" fill="#ff513b"/>
<rect x="89.37" y="56.83" width="3.97" height="3.88" fill="#fb2247"/>
<rect x="92.34" y="56.83" width="6.94" height="3.88" fill="#7c1957"/>
<rect x="98.28" y="56.83" width="6.94" height="3.88" fill="#ff865a"/>
<rect x="104.22" y="56.83" width="6.94" height="3.88" fill="#ed1450"/>
<rect x="110.16" y="56.83" width="6.94" height="3.88" fill="#d60f58"/>
<rect x="116.10" y="56.83" width="6.94" height="3.88" fill="#ed1450"/>
<rect x="122.04" y="56.83" width="3.97" height="3.88" fill="#801958"/>
<rect x="125.01" y="56.83" width="3.97" height="3.88" fill="#ff6844"/>
<rect x="127.98" y="56.83" width="3.97" height="3.88" fill="#ff2645"/>
<rect x="130.95" y="56.83" width="3.97" height="3.88" fill="#ed1450"/>
<rect x="133.92" y="56.83" width="3.97" height="3.88" fill="#f41a4c"/>
<rect x="136.89" y="56.83" width="3.97" height="3.88" fill="#ff6844"/>
<rect x="139.86" y="56.83" width="3.97" height="3.88" fill="#ffebdd"/>
<rect x="142.83" y="56.83" width="3.97" height="3.88" fill="#ff4b3b"/>
<rect x="145.80" y="56.83" width="3.97" height="3.88" fill="#5f174e"/>
<rect x="148.77" y="56.83" width="3.97" height="3.88" fill="#ff8055"/>
<rect x="151.74" y="56.83" width="27.73" height="3.88" fill="#ed1450"/>
<rect x="178.47" y="56.83" width="6.94" height="3.88" fill="#ff4b3b"/>
<rect x="184.41" y="56.83" width="3.97" height="3.88" fill="#ff2645"/>
<rect x="187.38" y="56.83" width="3.97" height="3.88" fill="#ff4b3b"/>
<rect x="190.35" y="56.83" width="18.82" height="3.88" fill="#ed1450"/>
<rect x="208.17" y="56.83" width="6.94" height="3.88" fill="#ff6844"/>
<rect x="214.11" y="56.83" width="3.97" height="3.88" fill="#df0f55"/>
<rect x="217.08" y="56.83" width="3.97" height="3.88" fill="#ff8055"/>
<rect x="220.05" y="56.83" width="3.97" height="3.88" fill="#b0155d"/>
<rect x="86.40" y="59.71" width="3.97" height="3.88" fill="#ff513b"/>
<rect x="89.37" y="59.71" width="3.97" height="3.88" fill="#fb2247"/>
<rect x="92.34" y="59.71" width="6.94" height="3.88" fill="#5f174e"/>
<rect x="98.28" y="59.71" width="6.94" height="3.88" fill="#ffb38a"/>
<rect x="104.22" y="59.71" width="6.94" height="3.88" fill="#ed1450"/>
<rect x="110.16" y="59.71" width="6.94" height="3.88" fill="#d60f58"/>
<rect x="116.10" y="59.71" width="6.94" height="3.88" fill="#ff8055"/>
<rect x="122.04" y="59.71" width="3.97" height="3.88" fill="#511648"/>
<rect x="125.01" y="59.71" width="3.97" height="3.88" fill="#ff8055"/>
<rect x="127.98" y="59.71" width="3.97" height="3.88" fill="#ff2645"/>
<rect x="130.95" y="59.71" width="3.97" height="3.88" fill="#ed1450"/>
<rect x="133.92" y="59.71" width="3.97" height="3.88" fill="#ff3140"/>
<rect x="136.89" y="59.71" width="3.97" height="3.88" fill="#ffb086"/>
<rect x="139.86" y="59.71" width="3.97" height="3.88" fill="#ff4b3b"/>
<rect x="142.83" y="59.71" width="3.97" height="3.88" fill="#ffebdd"/>
<rect x="145.80" y="59.71" width="3.97" height="3.88" fill="#ff6844"/>
<rect x="148.77" y="59.71" width="3.97" height="3.88" fill="#ffb086"/>
<rect x="151.74" y="59.71" width="3.97" height="3.88" fill="#ff8055"/>
<rect x="154.71" y="59.71" width="3.97" height="3.88" fill="#ff6240"/>
<rect x="157.68" y="59.71" width="3.97" height="3.88" fill="#ff8055"/>
<rect x="160.65" y="59.71" width="3.97" height="3.88" fill="#ff6240"/>
<rect x="163.62" y="59.71" width="9.91" height="3.88" fill="#ed1450"/>
<rect x="172.53" y="59.71" width="3.97" height="3.88" fill="#ff8055"/>
<rect x="175.50" y="59.71" width="3.97" height="3.88" fill="#ff714a"/>
<rect x="178.47" y="59.71" width="6.94" height="3.88" fill="#ffab80"/>
<rect x="184.41" y="59.71" width="3.97" height="3.88" fill="#ff403c"/>
<rect x="187.38" y="59.71" width="3.97" height="3.88" fill="#ffb086"/>
<rect x="190.35" y="59.71" width="6.94" height="3.88" fill="#ed1450"/>
<rect x="196.29" y="59.71" width="3.97" height="3.88" fill="#ff2645"/>
<rect x="199.26" y="59.71" width="9.91" height="3.88" fill="#ed1450"/>
<rect x="208.17" y="59.71" width="6.94" height="3.88" fill="#ffc4a1"/>
<rect x="214.11" y="59.71" width="3.97" height="3.88" fill="#b0155d"/>
<rect x="217.08" y="59.71" width="3.97" height="3.88" fill="#ff6844"/>
<rect x="220.05" y="59.71" width="3.97" height="3.88" fill="#d60f58"/>
<rect x="86.40" y="62.60" width="3.97" height="3.88" fill="#ff513b"/>
<rect x="89.37" y="62.60" width="3.97" height="3.88" fill="#fb2247"/>
<rect x="92.34" y="62.60" width="6.94" height="3.88" fill="#7c1957"/>
<rect x="98.28" y="62.60" width="6.94" height="3.88" fill="#ff865a"/>
<rect x="104.22" y="62.60" width="6.94" height="3.88" fill="#ed1450"/>
<rect x="110.16" y="62.60" width="3.97" height="3.88" fill="#c8115b"/>
<rect x="113.13" y="62.60" width="3.97" height="3.88" fill="#d60f58"/>
<rect x="116.10" y="62.60" width="6.94" height="3.88" fill="#f41a4c"/>
<rect x="122.04" y="62.60" width="3.97" height="3.88" fill="#801958"/>
<rect x="125.01" y="62.60" width="3.97" height="3.88" fill="#ff6844"/>
<rect x="127.98" y="62.60" width="3.97" height="3.88" fill="#ff2645"/>
<rect x="130.95" y="62.60" width="6.94" height="3.88" fill="#ed1450"/>
<rect x="136.89" y="62.60" width="3.97" height="3.88" fill="#ff8055"/>
<rect x="139.86" y="62.60" width="3.97" height="3.88" fill="#5f174e"/>
<rect x="142.83" y="62.60" width="3.97" height="3.88" fill="#ff6844"/>
<rect x="145.80" y="62.60" width="3.97" height="3.88" fill="#ffebdd"/>
<rect x="148.77" y="62.60" width="3.97" height="3.88" fill="#ff6844"/>
<rect x="151.74" y="62.60" width="12.88" height="3.88" fill="#ed1450"/>
<rect x="163.62" y="62.60" width="9.91" height="3.88" fill="#dc0f57"/>
<rect x="172.53" y="62.60" width="6.94" height="3.88" fill="#ed1450"/>
<rect x="178.47" y="62.60" width="6.94" height="3.88" fill="#ff403c"/>
<rect x="184.41" y="62.60" width="3.97" height="3.88" fill="#f41a4c"/>
<rect x="187.38" y="62.60" width="3.97" height="3.88" fill="#ff403c"/>
<rect x="190.35" y="62.60" width="3.97" height="3.88" fill="#ed1450"/>
<rect x="193.32" y="62.60" width="3.97" height="3.88" fill="#ce105a"/>
<rect x="196.29" y="62.60" width="3.97" height="3.88" fill="#ff2645"/>
<rect x="199.26" y="62.60" width="9.91" height="3.88" fill="#ed1450"/>
<rect x="208.17" y="62.60" width="6.94" height="3.88" fill="#ff6844"/>
<rect x="214.11" y="62.60" width="3.97" height="3.88" fill="#d60f58"/>
<rect x="217.08" y="62.60" width="3.97" height="3.88" fill="#ff8055"/>
<rect x="220.05" y="62.60" width="3.97" height="3.88" fill="#bb135c"/>
<rect x="86.40" y="65.48" width="3.97" height="3.88" fill="#ff513b"/>
<rect x="89.37" y="65.48" width="3.97" height="3.88" fill="#fb2247"/>
<rect x="92.34" y="65.48" width="6.94" height="3.88" fill="#5f174e"/>
<rect x="98.28" y="65.48" width="6.94" height="3.88" fill="#ffc4a1"/>
<rect x="104.22" y="65.48" width="6.94" height="3.88" fill="#ed1450"/>
<rect x="110.16" y="65.48" width="3.97" height="3.88" fill="#c8115b"/>
<rect x="113.13" y="65.48" width="3.97" height="3.88" fill="#d60f58"/>
<rect x="116.10" y="65.48" width="6.94" height="3.88" fill="#ed1450"/>
<rect x="122.04" y="65.48" width="3.97" height="3.88" fill="#3a123d"/>
<rect x="125.01" y="65.48" width="3.97" height="3.88" fill="#ff996c"/>
<rect x="127.98" y="65.48" width="3.97" height="3.88" fill="#ff2645"/>
<rect x="130.95" y="65.48" width="3.97" height="3.88" fill="#ed1450"/>
<rect x="133.92" y="65.48" width="3.97" height="3.88" fill="#df0f55"/>
<rect x="136.89" y="65.48" width="3.97" height="3.88" fill="#ffc4a1"/>
<rect x="139.86" y="65.48" width="3.97" height="3.88" fill="#ff8055"/>
<rect x="142.83" y="65.48" width="3.97" height="3.88" fill="#ffb086"/>
<rect x="145.80" y="65.48" width="3.97" height="3.88" fill="#ff6844"/>
<rect x="148.77" y="65.48" width="3.97" height="3.88" fill="#ffebdd"/>
<rect x="151.74" y="65.48" width="27.73" height="3.88" fill="#ed1450"/>
<rect x="178.47" y="65.48" width="6.94" height="3.88" fill="#ff4b3b"/>
<rect x="184.41" y="65.48" width="3.97" height="3.88" fill="#f91e49"/>
<rect x="187.38" y="65.48" width="3.97" height="3.88" fill="#ff4b3b"/>
<rect x="190.35" y="65.48" width="6.94" height="3.88" fill="#ed1450"/>
<rect x="196.29" y="65.48" width="3.97" height="3.88" fill="#ff2645"/>
<rect x="199.26" y="65.48" width="9.91" height="3.88" fill="#ed1450"/>
<rect x="208.17" y="65.48" width="6.94" height="3.88" fill="#ff8055"/>
<rect x="214.11" y="65.48" width="3.97" height="3.88" fill="#df0f55"/>
<rect x="217.08" y="65.48" width="3.97" height="3.88" fill="#ffb086"/>
<rect x="220.05" y="65.48" width="3.97" height="3.88" fill="#b0155d"/>
<rect x="86.40" y="68.37" width="30.70" height="3.88" fill="#ed1450"/>
<rect x="116.10" y="68.37" width="6.94" height="3.88" fill="#ffd0b3"/>
<rect x="122.04" y="68.37" width="12.88" height="3.88" fill="#ed1450"/>
<rect x="133.92" y="68.37" width="3.97" height="3.88" fill="#ff3140"/>
<rect x="136.89" y="68.37" width="6.94" height="3.88" fill="#ed1450"/>
<rect x="142.83" y="68.37" width="3.97" height="3.88" fill="#ff8055"/>
<rect x="145.80" y="68.37" width="6.94" height="3.88" fill="#ed1450"/>
<rect x="151.74" y="68.37" width="3.97" height="3.88" fill="#ffebdd"/>
<rect x="154.71" y="68.37" width="3.97" height="3.88" fill="#ff996c"/>
<rect x="157.68" y="68.37" width="3.97" height="3.88" fill="#ffd8c1"/>
<rect x="160.65" y="68.37" width="3.97" height="3.88" fill="#ffb086"/>
<rect x="163.62" y="68.37" width="9.91" height="3.88" fill="#ed1450"/>
<rect x="172.53" y="68.37" width="3.97" height="3.88" fill="#ffc4a1"/>
<rect x="175.50" y="68.37" width="3.97" height="3.88" fill="#ffb890"/>
<rect x="178.47" y="68.37" width="3.97" height="3.88" fill="#ffa67b"/>
<rect x="181.44" y="68.37" width="3.97" height="3.88" fill="#ff865a"/>
<rect x="184.41" y="68.37" width="3.97" height="3.88" fill="#ff4b3b"/>
<rect x="187.38" y="68.37" width="3.97" height="3.88" fill="#ffb38a"/>
<rect x="190.35" y="68.37" width="18.82" height="3.88" fill="#ed1450"/>
<rect x="208.17" y="68.37" width="6.94" height="3.88" fill="#ff6240"/>
<rect x="214.11" y="68.37" width="3.97" height="3.88" fill="#a6175d"/>
<rect x="217.08" y="68.37" width="6.94" height="3.88" fill="#ed1450"/>
<rect x="86.40" y="71.25" width="30.70" height="3.88" fill="#ed1450"/>
<rect x="116.10" y="71.25" width="6.94" height="3.88" fill="#ffb890"/>
<rect x="122.04" y="71.25" width="12.88" height="3.88" fill="#ed1450"/>
<rect x="133.92" y="71.25" width="3.97" height="3.88" fill="#f0164e"/>
<rect x="136.89" y="71.25" width="6.94" height="3.88" fill="#ed1450"/>
<rect x="142.83" y="71.25" width="3.97" height="3.88" fill="#ff6240"/>
<rect x="145.80" y="71.25" width="6.94" height="3.88" fill="#ed1450"/>
<rect x="151.74" y="71.25" width="3.97" height="3.88" fill="#ff996c"/>
<rect x="154.71" y="71.25" width="3.97" height="3.88" fill="#ffebdd"/>
<rect x="157.68" y="71.25" width="3.97" height="3.88" fill="#ffb086"/>
<rect x="160.65" y="71.25" width="3.97" height="3.88" fill="#ffd8c1"/>
<rect x="163.62" y="71.25" width="9.91" height="3.88" fill="#ed1450"/>
<rect x="172.53" y="71.25" width="3.97" height="3.88" fill="#ffab80"/>
<rect x="175.50" y="71.25" width="3.97" height="3.88" fill="#ff9e72"/>
<rect x="178.47" y="71.25" width="3.97" height="3.88" fill="#ff8b5f"/>
<rect x="181.44" y="71.25" width="3.97" height="3.88" fill="#ff6844"/>
<rect x="184.41" y="71.25" width="3.97" height="3.88" fill="#ff4b3b"/>
<rect x="187.38" y="71.25" width="3.97" height="3.88" fill="#ff996c"/>
<rect x="190.35" y="71.25" width="18.82" height="3.88" fill="#ed1450"/>
<rect x="208.17" y="71.25" width="6.94" height="3.88" fill="#ff403c"/>
<rect x="214.11" y="71.25" width="3.97" height="3.88" fill="#c8115b"/>
<rect x="217.08" y="71.25" width="6.94" height="3.88" fill="#ed1450"/>
<rect x="86.40" y="74.14" width="30.70" height="3.88" fill="#ed1450"/>
<rect x="116.10" y="74.14" width="6.94" height="3.88" fill="#ffd0b3"/>
<rect x="122.04" y="74.14" width="12.88" height="3.88" fill="#ed1450"/>
<rect x="133.92" y="74.14" width="3.97" height="3.88" fill="#ff3140"/>
<rect x="136.89" y="74.14" width="6.94" height="3.88" fill="#ed1450"/>
<rect x="142.83" y="74.14" width="3.97" height="3.88" fill="#ff8055"/>
<rect x="145.80" y="74.14" width="6.94" height="3.88" fill="#ed1450"/>
<rect x="151.74" y="74.14" width="3.97" height="3.88" fill="#ffd8c1"/>
<rect x="154.71" y="74.14" width="3.97" height="3.88" fill="#ffb086"/>
<rect x="157.68" y="74.14" width="3.97" height="3.88" fill="#ffebdd"/>
<rect x="160.65" y="74.14" width="3.97" height="3.88" fill="#ffa175"/>
<rect x="163.62" y="74.14" width="9.91" height="3.88" fill="#ed1450"/>
<rect x="172.53" y="74.14" width="3.97" height="3.88" fill="#ffc4a1"/>
<rect x="175.50" y="74.14" width="3.97" height="3.88" fill="#ffb890"/>
<rect x="178.47" y="74.14" width="3.97" height="3.88" fill="#ffa67b"/>
<rect x="181.44" y="74.14" width="3.97" height="3.88" fill="#ff865a"/>
<rect x="184.41" y="74.14" width="3.97" height="3.88" fill="#ff4b3b"/>
<rect x="187.38" y="74.14" width="3.97" height="3.88" fill="#ffb38a"/>
<rect x="190.35" y="74.14" width="18.82" height="3.88" fill="#ed1450"/>
<rect x="208.17" y="74.14" width="6.94" height="3.88" fill="#ff6240"/>
<rect x="214.11" y="74.14" width="3.97" height="3.88" fill="#a6175d"/>
<rect x="217.08" y="74.14" width="6.94" height="3.88" fill="#ed1450"/>
<rect x="86.40" y="77.03" width="30.70" height="3.88" fill="#ed1450"/>
<rect x="116.10" y="77.03" width="6.94" height="3.88" fill="#ffb890"/>
<rect x="122.04" y="77.03" width="12.88" height="3.88" fill="#ed1450"/>
<rect x="133.92" y="77.03" width="3.97" height="3.88" fill="#f0164e"/>
<rect x="136.89" y="77.03" width="6.94" height="3.88" fill="#ed1450"/>
<rect x="142.83" y="77.03" width="3.97" height="3.88" fill="#ff6240"/>
<rect x="145.80" y="77.03" width="6.94" height="3.88" fill="#ed1450"/>
<rect x="151.74" y="77.03" width="3.97" height="3.88" fill="#ffb086"/>
<rect x="154.71" y="77.03" width="3.97" height="3.88" fill="#ffd8c1"/>
<rect x="157.68" y="77.03" width="3.97" height="3.88" fill="#ffa175"/>
<rect x="160.65" y="77.03" width="3.97" height="3.88" fill="#ffebdd"/>
<rect x="163.62" y="77.03" width="9.91" height="3.88" fill="#ed1450"/>
<rect x="172.53" y="77.03" width="3.97" height="3.88" fill="#ffab80"/>
<rect x="175.50" y="77.03" width="3.97" height="3.88" fill="#ff9e72"/>
<rect x="178.47" y="77.03" width="3.97" height="3.88" fill="#ff8b5f"/>
<rect x="181.44" y="77.03" width="3.97" height="3.88" fill="#ff6844"/>
<rect x="184.41" y="77.03" width="3.97" height="3.88" fill="#ff4b3b"/>
<rect x="187.38" y="77.03" width="3.97" height="3.88" fill="#ff996c"/>
<rect x="190.35" y="77.03" width="18.82" height="3.88" fill="#ed1450"/>
<rect x="208.17" y="77.03" width="6.94" height="3.88" fill="#ff403c"/>
<rect x="214.11" y="77.03" width="3.97" height="3.88" fill="#a6175d"/>
<rect x="217.08" y="77.03" width="6.94" height="3.88" fill="#ed1450"/>
<rect x="86.40" y="79.91" width="3.97" height="3.88" fill="#ed1450"/>
<rect x="89.37" y="79.91" width="3.97" height="3.88" fill="#a2175c"/>
<rect x="92.34" y="79.91" width="15.85" height="3.88" fill="#ed1450"/>
<rect x="107.19" y="79.91" width="3.97" height="3.88" fill="#ff2c42"/>
<rect x="110.16" y="79.91" width="18.82" height="3.88" fill="#ed1450"/>
<rect x="127.98" y="79.91" width="3.97" height="3.88" fill="#b0155d"/>
<rect x="130.95" y="79.91" width="15.85" height="3.88" fill="#ed1450"/>
<rect x="145.80" y="79.91" width="3.97" height="3.88" fill="#dc0f57"/>
<rect x="148.77" y="79.91" width="15.85" height="3.88" fill="#ed1450"/>
<rect x="163.62" y="79.91" width="3.97" height="3.88" fill="#ffebdd"/>
<rect x="166.59" y="79.91" width="24.76" height="3.88" fill="#ed1450"/>
<rect x="190.35" y="79.91" width="3.97" height="3.88" fill="#ff3140"/>
<rect x="193.32" y="79.91" width="3.97" height="3.88" fill="#ff4b3b"/>
<rect x="196.29" y="79.91" width="6.94" height="3.88" fill="#ed1450"/>
<rect x="202.23" y="79.91" width="6.94" height="3.88" fill="#ffc4a1"/>
<rect x="208.17" y="79.91" width="12.88" height="3.88" fill="#ed1450"/>
<rect x="220.05" y="79.91" width="3.97" height="3.88" fill="#ff3140"/>
<rect x="86.40" y="82.80" width="3.97" height="3.88" fill="#ed1450"/>
<rect x="89.37" y="82.80" width="3.97" height="3.88" fill="#d20f59"/>
<rect x="92.34" y="82.80" width="36.64" height="3.88" fill="#ed1450"/>
<rect x="127.98" y="82.80" width="3.97" height="3.88" fill="#e41053"/>
<rect x="130.95" y="82.80" width="15.85" height="3.88" fill="#ed1450"/>
<rect x="145.80" y="82.80" width="3.97" height="3.88" fill="#dc0f57"/>
<rect x="148.77" y="82.80" width="18.82" height="3.88" fill="#ed1450"/>
<rect x="166.59" y="82.80" width="3.97" height="3.88" fill="#ffebdd"/>
<rect x="169.56" y="82.80" width="15.85" height="3.88" fill="#ed1450"/>
<rect x="184.41" y="82.80" width="3.97" height="3.88" fill="#ff3140"/>
<rect x="187.38" y="82.80" width="21.79" height="3.88" fill="#ed1450"/>
<rect x="208.17" y="82.80" width="6.94" height="3.88" fill="#dc0f57"/>
<rect x="214.11" y="82.80" width="9.91" height="3.88" fill="#ed1450"/>
<rect x="86.40" y="85.68" width="3.97" height="3.88" fill="#ed1450"/>
<rect x="89.37" y="85.68" width="3.97" height="3.88" fill="#d20f59"/>
<rect x="92.34" y="85.68" width="36.64" height="3.88" fill="#ed1450"/>
<rect x="127.98" y="85.68" width="3.97" height="3.88" fill="#e41053"/>
<rect x="130.95" y="85.68" width="15.85" height="3.88" fill="#ed1450"/>
<rect x="145.80" y="85.68" width="3.97" height="3.88" fill="#dc0f57"/>
<rect x="148.77" y="85.68" width="21.79" height="3.88" fill="#ed1450"/>
<rect x="169.56" y="85.68" width="3.97" height="3.88" fill="#ffebdd"/>
<rect x="172.53" y="85.68" width="36.64" height="3.88" fill="#ed1450"/>
<rect x="208.17" y="85.68" width="6.94" height="3.88" fill="#dc0f57"/>
<rect x="214.11" y="85.68" width="9.91" height="3.88" fill="#ed1450"/>
<rect x="86.40" y="88.56" width="30.70" height="3.88" fill="#ed1450"/>
<rect x="116.10" y="88.56" width="6.94" height="3.88" fill="#ffc4a1"/>
<rect x="122.04" y="88.56" width="12.88" height="3.88" fill="#ed1450"/>
<rect x="133.92" y="88.56" width="3.97" height="3.88" fill="#ff3140"/>
<rect x="136.89" y="88.56" width="6.94" height="3.88" fill="#ed1450"/>
<rect x="142.83" y="88.56" width="3.97" height="3.88" fill="#ff8055"/>
<rect x="145.80" y="88.56" width="6.94" height="3.88" fill="#ed1450"/>
<rect x="151.74" y="88.56" width="3.97" height="3.88" fill="#ffc4a1"/>
<rect x="154.71" y="88.56" width="3.97" height="3.88" fill="#ffab80"/>
<rect x="157.68" y="88.56" width="3.97" height="3.88" fill="#ffc4a1"/>
<rect x="160.65" y="88.56" width="3.97" height="3.88" fill="#ffab80"/>
<rect x="163.62" y="88.56" width="9.91" height="3.88" fill="#ed1450"/>
<rect x="172.53" y="88.56" width="3.97" height="3.88" fill="#ffebdd"/>
<rect x="175.50" y="88.56" width="3.97" height="3.88" fill="#ffd0b3"/>
<rect x="178.47" y="88.56" width="3.97" height="3.88" fill="#ffb890"/>
<rect x="181.44" y="88.56" width="3.97" height="3.88" fill="#ffa175"/>
<rect x="184.41" y="88.56" width="3.97" height="3.88" fill="#ff4b3b"/>
<rect x="187.38" y="88.56" width="3.97" height="3.88" fill="#ffb38a"/>
<rect x="190.35" y="88.56" width="18.82" height="3.88" fill="#ed1450"/>
<rect x="208.17" y="88.56" width="6.94" height="3.88" fill="#ff6844"/>
<rect x="214.11" y="88.56" width="3.97" height="3.88" fill="#98185b"/>
<rect x="217.08" y="88.56" width="6.94" height="3.88" fill="#ed1450"/>
<rect x="86.40" y="91.45" width="30.70" height="3.88" fill="#ed1450"/>
<rect x="116.10" y="91.45" width="6.94" height="3.88" fill="#ffb890"/>
<rect x="122.04" y="91.45" width="12.88" height="3.88" fill="#ed1450"/>
<rect x="133.92" y="91.45" width="3.97" height="3.88" fill="#ff3140"/>
<rect x="136.89" y="91.45" width="6.94" height="3.88" fill="#ed1450"/>
<rect x="142.83" y="91.45" width="3.97" height="3.88" fill="#ff714a"/>
<rect x="145.80" y="91.45" width="6.94" height="3.88" fill="#ed1450"/>
<rect x="151.74" y="91.45" width="3.97" height="3.88" fill="#ffb890"/>
<rect x="154.71" y="91.45" width="3.97" height="3.88" fill="#ff9e72"/>
<rect x="157.68" y="91.45" width="3.97" height="3.88" fill="#ffb890"/>
<rect x="160.65" y="91.45" width="3.97" height="3.88" fill="#ff9e72"/>
<rect x="163.62" y="91.45" width="9.91" height="3.88" fill="#ed1450"/>
<rect x="172.53" y="91.45" width="3.97" height="3.88" fill="#ffd0b3"/>
<rect x="175.50" y="91.45" width="3.97" height="3.88" fill="#ffebdd"/>
<rect x="178.47" y="91.45" width="3.97" height="3.88" fill="#ffbc97"/>
<rect x="181.44" y="91.45" width="3.97" height="3.88" fill="#ffb086"/>
<rect x="184.41" y="91.45" width="3.97" height="3.88" fill="#ff4b3b"/>
<rect x="187.38" y="91.45" width="3.97" height="3.88" fill="#ffc4a1"/>
<rect x="190.35" y="91.45" width="18.82" height="3.88" fill="#ed1450"/>
<rect x="208.17" y="91.45" width="6.94" height="3.88" fill="#ff6844"/>
<rect x="214.11" y="91.45" width="3.97" height="3.88" fill="#a6175d"/>
<rect x="217.08" y="91.45" width="6.94" height="3.88" fill="#ed1450"/>
<rect x="86.40" y="94.33" width="3.97" height="3.88" fill="#ff3140"/>
<rect x="89.37" y="94.33" width="3.97" height="3.88" fill="#ed1450"/>
<rect x="92.34" y="94.33" width="6.94" height="3.88" fill="#94185b"/>
<rect x="98.28" y="94.33" width="6.94" height="3.88" fill="#ff8055"/>
<rect x="104.22" y="94.33" width="3.97" height="3.88" fill="#f41a4c"/>
<rect x="107.19" y="94.33" width="3.97" height="3.88" fill="#ed1450"/>
<rect x="110.16" y="94.33" width="3.97" height="3.88" fill="#d20f59"/>
<rect x="113.13" y="94.33" width="3.97" height="3.88" fill="#d60f58"/>
<rect x="116.10" y="94.33" width="6.94" height="3.88" fill="#ffc4a1"/>
<rect x="122.04" y="94.33" width="3.97" height="3.88" fill="#691851"/>
<rect x="125.01" y="94.33" width="3.97" height="3.88" fill="#ff6844"/>
<rect x="127.98" y="94.33" width="3.97" height="3.88" fill="#ff403c"/>
<rect x="130.95" y="94.33" width="3.97" height="3.88" fill="#f41a4c"/>
<rect x="133.92" y="94.33" width="3.97" height="3.88" fill="#ff3140"/>
<rect x="136.89" y="94.33" width="3.97" height="3.88" fill="#ff6844"/>
<rect x="139.86" y="94.33" width="3.97" height="3.88" fill="#ff4b3b"/>
<rect x="142.83" y="94.33" width="3.97" height="3.88" fill="#ffab80"/>
<rect x="145.80" y="94.33" width="3.97" height="3.88" fill="#ff403c"/>
<rect x="148.77" y="94.33" width="3.97" height="3.88" fill="#ff4b3b"/>
<rect x="151.74" y="94.33" width="3.97" height="3.88" fill="#ffa67b"/>
<rect x="154.71" y="94.33" width="3.97" height="3.88" fill="#ff8b5f"/>
<rect x="157.68" y="94.33" width="3.97" height="3.88" fill="#ffa67b"/>
<rect x="160.65" y="94.33" width="3.97" height="3.88" fill="#ff8b5f"/>
<rect x="163.62" y="94.33" width="9.91" height="3.88" fill="#ed1450"/>
<rect x="172.53" y="94.33" width="3.97" height="3.88" fill="#ffb890"/>
<rect x="175.50" y="94.33" width="3.97" height="3.88" fill="#ffbc97"/>
<rect x="178.47" y="94.33" width="3.97" height="3.88" fill="#ffebdd"/>
<rect x="181.44" y="94.33" width="3.97" height="3.88" fill="#ffc4a1"/>
<rect x="184.41" y="94.33" width="3.97" height="3.88" fill="#ff6844"/>
<rect x="187.38" y="94.33" width="3.97" height="3.88" fill="#ffc4a1"/>
<rect x="190.35" y="94.33" width="6.94" height="3.88" fill="#ed1450"/>
<rect x="196.29" y="94.33" width="6.94" height="3.88" fill="#ff403c"/>
<rect x="202.23" y="94.33" width="6.94" height="3.88" fill="#ed1450"/>
<rect x="208.17" y="94.33" width="6.94" height="3.88" fill="#ffc4a1"/>
<rect x="214.11" y="94.33" width="3.97" height="3.88" fill="#b0155d"/>
<rect x="217.08" y="94.33" width="3.97" height="3.88" fill="#ff4b3b"/>
<rect x="220.05" y="94.33" width="3.97" height="3.88" fill="#ed1450"/>
<rect x="86.40" y="97.22" width="3.97" height="3.88" fill="#ff3140"/>
<rect x="89.37" y="97.22" width="3.97" height="3.88" fill="#ed1450"/>
<rect x="92.34" y="97.22" width="6.94" height="3.88" fill="#94185b"/>
<rect x="98.28" y="97.22" width="6.94" height="3.88" fill="#ff8055"/>
<rect x="104.22" y="97.22" width="3.97" height="3.88" fill="#f41a4c"/>
<rect x="107.19" y="97.22" width="3.97" height="3.88" fill="#ed1450"/>
<rect x="110.16" y="97.22" width="3.97" height="3.88" fill="#c8115b"/>
<rect x="113.13" y="97.22" width="3.97" height="3.88" fill="#d60f58"/>
<rect x="116.10" y="97.22" width="6.94" height="3.88" fill="#ff865a"/>
<rect x="122.04" y="97.22" width="3.97" height="3.88" fill="#691851"/>
<rect x="125.01" y="97.22" width="3.97" height="3.88" fill="#ff6844"/>
<rect x="127.98" y="97.22" width="3.97" height="3.88" fill="#ff403c"/>
<rect x="130.95" y="97.22" width="3.97" height="3.88" fill="#f41a4c"/>
<rect x="133.92" y="97.22" width="3.97" height="3.88" fill="#ff3140"/>
<rect x="136.89" y="97.22" width="3.97" height="3.88" fill="#ff6844"/>
<rect x="139.86" y="97.22" width="3.97" height="3.88" fill="#ff4b3b"/>
<rect x="142.83" y="97.22" width="3.97" height="3.88" fill="#ffab80"/>
<rect x="145.80" y="97.22" width="3.97" height="3.88" fill="#ff403c"/>
<rect x="148.77" y="97.22" width="3.97" height="3.88" fill="#ff4b3b"/>
<rect x="151.74" y="97.22" width="3.97" height="3.88" fill="#ff865a"/>
<rect x="154.71" y="97.22" width="3.97" height="3.88" fill="#ff6844"/>
<rect x="157.68" y="97.22" width="3.97" height="3.88" fill="#ff865a"/>
<rect x="160.65" y="97.22" width="3.97" height="3.88" fill="#ff6844"/>
<rect x="163.62" y="97.22" width="9.91" height="3.88" fill="#ed1450"/>
<rect x="172.53" y="97.22" width="3.97" height="3.88" fill="#ffa175"/>
<rect x="175.50" y="97.22" width="3.97" height="3.88" fill="#ffb086"/>
<rect x="178.47" y="97.22" width="3.97" height="3.88" fill="#ffc4a1"/>
<rect x="181.44" y="97.22" width="3.97" height="3.88" fill="#ffebdd"/>
<rect x="184.41" y="97.22" width="3.97" height="3.88" fill="#ff6844"/>
<rect x="187.38" y="97.22" width="3.97" height="3.88" fill="#ffb38a"/>
<rect x="190.35" y="97.22" width="6.94" height="3.88" fill="#ed1450"/>
<rect x="196.29" y="97.22" width="6.94" height="3.88" fill="#ff403c"/>
<rect x="202.23" y="97.22" width="6.94" height="3.88" fill="#ed1450"/>
<rect x="208.17" y="97.22" width="6.94" height="3.88" fill="#ffc4a1"/>
<rect x="214.11" y="97.22" width="3.97" height="3.88" fill="#bb135c"/>
<rect x="217.08" y="97.22" width="3.97" height="3.88" fill="#ff5c3e"/>
<rect x="220.05" y="97.22" width="3.97" height="3.88" fill="#ed1450"/>
<rect x="86.40" y="100.11" width="6.94" height="3.88" fill="#ed1450"/>
<rect x="92.34" y="100.11" width="6.94" height="3.88" fill="#d60f58"/>
<rect x="98.28" y="100.11" width="6.94" height="3.88" fill="#f91e49"/>
<rect x="104.22" y="100.11" width="3.97" height="3.88" fill="#f41a4c"/>
<rect x="107.19" y="100.11" width="3.97" height="3.88" fill="#ed1450"/>
<rect x="110.16" y="100.11" width="3.97" height="3.88" fill="#ff3140"/>
<rect x="113.13" y="100.11" width="3.97" height="3.88" fill="#d60f58"/>
<rect x="116.10" y="100.11" width="6.94" height="3.88" fill="#ff4b3b"/>
<rect x="122.04" y="100.11" width="3.97" height="3.88" fill="#df0f55"/>
<rect x="125.01" y="100.11" width="3.97" height="3.88" fill="#f41a4c"/>
<rect x="127.98" y="100.11" width="3.97" height="3.88" fill="#df0f55"/>
<rect x="130.95" y="100.11" width="3.97" height="3.88" fill="#ce105a"/>
<rect x="133.92" y="100.11" width="6.94" height="3.88" fill="#f41a4c"/>
<rect x="139.86" y="100.11" width="3.97" height="3.88" fill="#ff2645"/>
<rect x="142.83" y="100.11" width="3.97" height="3.88" fill="#ff403c"/>
<rect x="145.80" y="100.11" width="3.97" height="3.88" fill="#f41a4c"/>
<rect x="148.77" y="100.11" width="3.97" height="3.88" fill="#f91e49"/>
<rect x="151.74" y="100.11" width="12.88" height="3.88" fill="#ff4b3b"/>
<rect x="163.62" y="100.11" width="3.97" height="3.88" fill="#ed1450"/>
<rect x="166.59" y="100.11" width="3.97" height="3.88" fill="#ff3140"/>
<rect x="169.56" y="100.11" width="3.97" height="3.88" fill="#ed1450"/>
<rect x="172.53" y="100.11" width="6.94" height="3.88" fill="#ff4b3b"/>
<rect x="178.47" y="100.11" width="6.94" height="3.88" fill="#ff6844"/>
<rect x="184.41" y="100.11" width="3.97" height="3.88" fill="#ffebdd"/>
<rect x="187.38" y="100.11" width="3.97" height="3.88" fill="#ff8055"/>
<rect x="190.35" y="100.11" width="18.82" height="3.88" fill="#ed1450"/>
<rect x="208.17" y="100.11" width="6.94" height="3.88" fill="#ff403c"/>
<rect x="214.11" y="100.11" width="3.97" height="3.88" fill="#04021b"/>
<rect x="217.08" y="100.11" width="3.97" height="3.88" fill="#f41a4c"/>
<rect x="220.05" y="100.11" width="3.97" height="3.88" fill="#ed1450"/>
<rect x="86.40" y="102.99" width="3.97" height="3.88" fill="#ff3140"/>
<rect x="89.37" y="102.99" width="3.97" height="3.88" fill="#ed1450"/>
<rect x="92.34" y="102.99" width="6.94" height="3.88" fill="#94185b"/>
<rect x="98.28" y="102.99" width="6.94" height="3.88" fill="#ff8055"/>
<rect x="104.22" y="102.99" width="3.97" height="3.88" fill="#f41a4c"/>
<rect x="107.19" y="102.99" width="3.97" height="3.88" fill="#ed1450"/>
<rect x="110.16" y="102.99" width="3.97" height="3.88" fill="#d20f59"/>
<rect x="113.13" y="102.99" width="3.97" height="3.88" fill="#d60f58"/>
<rect x="116.10" y="102.99" width="6.94" height="3.88" fill="#ffb38a"/>
<rect x="122.04" y="102.99" width="3.97" height="3.88" fill="#761955"/>
<rect x="125.01" y="102.99" width="3.97" height="3.88" fill="#ff6844"/>
<rect x="127.98" y="102.99" width="3.97" height="3.88" fill="#ff403c"/>
<rect x="130.95" y="102.99" width="3.97" height="3.88" fill="#f41a4c"/>
<rect x="133.92" y="102.99" width="3.97" height="3.88" fill="#ff3a3d"/>
<rect x="136.89" y="102.99" width="3.97" height="3.88" fill="#ff6844"/>
<rect x="139.86" y="102.99" width="3.97" height="3.88" fill="#ff4b3b"/>
<rect x="142.83" y="102.99" width="3.97" height="3.88" fill="#ffb086"/>
<rect x="145.80" y="102.99" width="3.97" height="3.88" fill="#ff403c"/>
<rect x="148.77" y="102.99" width="3.97" height="3.88" fill="#ff4b3b"/>
<rect x="151.74" y="102.99" width="3.97" height="3.88" fill="#ffb38a"/>
<rect x="154.71" y="102.99" width="3.97" height="3.88" fill="#ff996c"/>
<rect x="157.68" y="102.99" width="3.97" height="3.88" fill="#ffb38a"/>
<rect x="160.65" y="102.99" width="3.97" height="3.88" fill="#ff996c"/>
<rect x="163.62" y="102.99" width="9.91" height="3.88" fill="#ed1450"/>
<rect x="172.53" y="102.99" width="3.97" height="3.88" fill="#ffb38a"/>
<rect x="175.50" y="102.99" width="6.94" height="3.88" fill="#ffc4a1"/>
<rect x="181.44" y="102.99" width="3.97" height="3.88" fill="#ffb38a"/>
<rect x="184.41" y="102.99" width="3.97" height="3.88" fill="#ff8055"/>
<rect x="187.38" y="102.99" width="3.97" height="3.88" fill="#ffebdd"/>
<rect x="190.35" y="102.99" width="6.94" height="3.88" fill="#ed1450"/>
<rect x="196.29" y="102.99" width="6.94" height="3.88" fill="#f41a4c"/>
<rect x="202.23" y="102.99" width="6.94" height="3.88" fill="#ed1450"/>
<rect x="208.17" y="102.99" width="6.94" height="3.88" fill="#ffbc97"/>
<rect x="214.11" y="102.99" width="3.97" height="3.88" fill="#d60f58"/>
<rect x="217.08" y="102.99" width="3.97" height="3.88" fill="#ff6844"/>
<rect x="220.05" y="102.99" width="3.97" height="3.88" fill="#ed1450"/>
<rect x="86.40" y="105.88" width="3.97" height="3.88" fill="#ed1450"/>
<rect x="89.37" y="105.88" width="3.97" height="3.88" fill="#801958"/>
<rect x="92.34" y="105.88" width="6.94" height="3.88" fill="#dc0f57"/>
<rect x="98.28" y="105.88" width="30.70" height="3.88" fill="#ed1450"/>
<rect x="127.98" y="105.88" width="3.97" height="3.88" fill="#801958"/>
<rect x="130.95" y="105.88" width="33.67" height="3.88" fill="#ed1450"/>
<rect x="163.62" y="105.88" width="3.97" height="3.88" fill="#ff3140"/>
<rect x="166.59" y="105.88" width="24.76" height="3.88" fill="#ed1450"/>
<rect x="190.35" y="105.88" width="3.97" height="3.88" fill="#ffebdd"/>
<rect x="193.32" y="105.88" width="3.97" height="3.88" fill="#ffc4a1"/>
<rect x="196.29" y="105.88" width="6.94" height="3.88" fill="#ed1450"/>
<rect x="202.23" y="105.88" width="6.94" height="3.88" fill="#ff4b3b"/>
<rect x="208.17" y="105.88" width="12.88" height="3.88" fill="#ed1450"/>
<rect x="220.05" y="105.88" width="3.97" height="3.88" fill="#ff3140"/>
<rect x="86.40" y="108.76" width="3.97" height="3.88" fill="#ed1450"/>
<rect x="89.37" y="108.76" width="3.97" height="3.88" fill="#801958"/>
<rect x="92.34" y="108.76" width="6.94" height="3.88" fill="#dc0f57"/>
<rect x="98.28" y="108.76" width="9.91" height="3.88" fill="#ed1450"/>
<rect x="107.19" y="108.76" width="3.97" height="3.88" fill="#ff3140"/>
<rect x="110.16" y="108.76" width="3.97" height="3.88" fill="#ed1450"/>
<rect x="113.13" y="108.76" width="3.97" height="3.88" fill="#ff4b3b"/>
<rect x="116.10" y="108.76" width="12.88" height="3.88" fill="#ed1450"/>
<rect x="127.98" y="108.76" width="3.97" height="3.88" fill="#691851"/>
<rect x="130.95" y="108.76" width="15.85" height="3.88" fill="#ed1450"/>
<rect x="145.80" y="108.76" width="3.97" height="3.88" fill="#ce105a"/>
<rect x="148.77" y="108.76" width="15.85" height="3.88" fill="#ed1450"/>
<rect x="163.62" y="108.76" width="3.97" height="3.88" fill="#ff4b3b"/>
<rect x="166.59" y="108.76" width="24.76" height="3.88" fill="#ed1450"/>
<rect x="190.35" y="108.76" width="3.97" height="3.88" fill="#ffc4a1"/>
<rect x="193.32" y="108.76" width="3.97" height="3.88" fill="#ffebdd"/>
<rect x="196.29" y="108.76" width="6.94" height="3.88" fill="#d60f58"/>
<rect x="202.23" y="108.76" width="6.94" height="3.88" fill="#ff4b3b"/>
<rect x="208.17" y="108.76" width="6.94" height="3.88" fill="#df0f55"/>
<rect x="214.11" y="108.76" width="3.97" height="3.88" fill="#c8115b"/>
<rect x="217.08" y="108.76" width="3.97" height="3.88" fill="#bf125c"/>
<rect x="220.05" y="108.76" width="3.97" height="3.88" fill="#ff3a3d"/>
<rect x="86.40" y="111.64" width="3.97" height="3.88" fill="#ff4b3b"/>
<rect x="89.37" y="111.64" width="3.97" height="3.88" fill="#ed1450"/>
<rect x="92.34" y="111.64" width="3.97" height="3.88" fill="#dc0f57"/>
<rect x="95.31" y="111.64" width="3.97" height="3.88" fill="#c8115b"/>
<rect x="98.28" y="111.64" width="9.91" height="3.88" fill="#ed1450"/>
<rect x="107.19" y="111.64" width="3.97" height="3.88" fill="#f41a4c"/>
<rect x="110.16" y="111.64" width="3.97" height="3.88" fill="#a6175d"/>
<rect x="113.13" y="111.64" width="21.79" height="3.88" fill="#ed1450"/>
<rect x="133.92" y="111.64" width="3.97" height="3.88" fill="#b0155d"/>
<rect x="136.89" y="111.64" width="3.97" height="3.88" fill="#ff2645"/>
<rect x="139.86" y="111.64" width="3.97" height="3.88" fill="#ed1450"/>
<rect x="142.83" y="111.64" width="9.91" height="3.88" fill="#ff2645"/>
<rect x="151.74" y="111.64" width="27.73" height="3.88" fill="#ed1450"/>
<rect x="178.47" y="111.64" width="6.94" height="3.88" fill="#ff403c"/>
<rect x="184.41" y="111.64" width="3.97" height="3.88" fill="#ed1450"/>
<rect x="187.38" y="111.64" width="3.97" height="3.88" fill="#f41a4c"/>
<rect x="190.35" y="111.64" width="3.97" height="3.88" fill="#ed1450"/>
<rect x="193.32" y="111.64" width="3.97" height="3.88" fill="#d60f58"/>
<rect x="196.29" y="111.64" width="3.97" height="3.88" fill="#ffebdd"/>
<rect x="199.26" y="111.64" width="3.97" height="3.88" fill="#ffc4a1"/>
<rect x="202.23" y="111.64" width="6.94" height="3.88" fill="#d60f58"/>
<rect x="208.17" y="111.64" width="6.94" height="3.88" fill="#ff3140"/>
<rect x="214.11" y="111.64" width="6.94" height="3.88" fill="#df0f55"/>
<rect x="220.05" y="111.64" width="3.97" height="3.88" fill="#721954"/>
<rect x="86.40" y="114.53" width="6.94" height="3.88" fill="#ed1450"/>
<rect x="92.34" y="114.53" width="3.97" height="3.88" fill="#dc0f57"/>
<rect x="95.31" y="114.53" width="3.97" height="3.88" fill="#c8115b"/>
<rect x="98.28" y="114.53" width="9.91" height="3.88" fill="#ed1450"/>
<rect x="107.19" y="114.53" width="3.97" height="3.88" fill="#f41a4c"/>
<rect x="110.16" y="114.53" width="69.31" height="3.88" fill="#ed1450"/>
<rect x="178.47" y="114.53" width="6.94" height="3.88" fill="#ff403c"/>
<rect x="184.41" y="114.53" width="3.97" height="3.88" fill="#ed1450"/>
<rect x="187.38" y="114.53" width="3.97" height="3.88" fill="#f41a4c"/>
<rect x="190.35" y="114.53" width="3.97" height="3.88" fill="#ed1450"/>
<rect x="193.32" y="114.53" width="3.97" height="3.88" fill="#d60f58"/>
<rect x="196.29" y="114.53" width="3.97" height="3.88" fill="#ffc4a1"/>
<rect x="199.26" y="114.53" width="3.97" height="3.88" fill="#ffebdd"/>
<rect x="202.23" y="114.53" width="6.94" height="3.88" fill="#d60f58"/>
<rect x="208.17" y="114.53" width="6.94" height="3.88" fill="#ff4b3b"/>
<rect x="214.11" y="114.53" width="3.97" height="3.88" fill="#df0f55"/>
<rect x="217.08" y="114.53" width="3.97" height="3.88" fill="#ff3140"/>
<rect x="220.05" y="114.53" width="3.97" height="3.88" fill="#f91e49"/>
<rect x="86.40" y="117.41" width="3.97" height="3.88" fill="#ed1450"/>
<rect x="89.37" y="117.41" width="3.97" height="3.88" fill="#98185b"/>
<rect x="92.34" y="117.41" width="6.94" height="3.88" fill="#dc0f57"/>
<rect x="98.28" y="117.41" width="9.91" height="3.88" fill="#ed1450"/>
<rect x="107.19" y="117.41" width="3.97" height="3.88" fill="#f41a4c"/>
<rect x="110.16" y="117.41" width="18.82" height="3.88" fill="#ed1450"/>
<rect x="127.98" y="117.41" width="3.97" height="3.88" fill="#98185b"/>
<rect x="130.95" y="117.41" width="33.67" height="3.88" fill="#ed1450"/>
<rect x="163.62" y="117.41" width="3.97" height="3.88" fill="#ffc4a1"/>
<rect x="166.59" y="117.41" width="24.76" height="3.88" fill="#ed1450"/>
<rect x="190.35" y="117.41" width="6.94" height="3.88" fill="#ff4b3b"/>
<rect x="196.29" y="117.41" width="6.94" height="3.88" fill="#d60f58"/>
<rect x="202.23" y="117.41" width="3.97" height="3.88" fill="#ffebdd"/>
<rect x="205.20" y="117.41" width="3.97" height="3.88" fill="#ffc4a1"/>
<rect x="208.17" y="117.41" width="6.94" height="3.88" fill="#d60f58"/>
<rect x="214.11" y="117.41" width="3.97" height="3.88" fill="#df0f55"/>
<rect x="217.08" y="117.41" width="3.97" height="3.88" fill="#c8115b"/>
<rect x="220.05" y="117.41" width="3.97" height="3.88" fill="#f91e49"/>
<rect x="86.40" y="120.30" width="3.97" height="3.88" fill="#ed1450"/>
<rect x="89.37" y="120.30" width="3.97" height="3.88" fill="#98185b"/>
<rect x="92.34" y="120.30" width="6.94" height="3.88" fill="#dc0f57"/>
<rect x="98.28" y="120.30" width="9.91" height="3.88" fill="#ed1450"/>
<rect x="107.19" y="120.30" width="3.97" height="3.88" fill="#f41a4c"/>
<rect x="110.16" y="120.30" width="18.82" height="3.88" fill="#ed1450"/>
<rect x="127.98" y="120.30" width="3.97" height="3.88" fill="#98185b"/>
<rect x="130.95" y="120.30" width="33.67" height="3.88" fill="#ed1450"/>
<rect x="163.62" y="120.30" width="3.97" height="3.88" fill="#ffc4a1"/>
<rect x="166.59" y="120.30" width="24.76" height="3.88" fill="#ed1450"/>
<rect x="190.35" y="120.30" width="6.94" height="3.88" fill="#ff4b3b"/>
<rect x="196.29" y="120.30" width="6.94" height="3.88" fill="#d60f58"/>
<rect x="202.23" y="120.30" width="3.97" height="3.88" fill="#ffc4a1"/>
<rect x="205.20" y="120.30" width="3.97" height="3.88" fill="#ffebdd"/>
<rect x="208.17" y="120.30" width="6.94" height="3.88" fill="#d60f58"/>
<rect x="214.11" y="120.30" width="3.97" height="3.88" fill="#df0f55"/>
<rect x="217.08" y="120.30" width="3.97" height="3.88" fill="#c8115b"/>
<rect x="220.05" y="120.30" width="3.97" height="3.88" fill="#f91e49"/>
<rect x="86.40" y="123.19" width="3.97" height="3.88" fill="#ff3140"/>
<rect x="89.37" y="123.19" width="3.97" height="3.88" fill="#ed1450"/>
<rect x="92.34" y="123.19" width="6.94" height="3.88" fill="#691851"/>
<rect x="98.28" y="123.19" width="6.94" height="3.88" fill="#ff996c"/>
<rect x="104.22" y="123.19" width="6.94" height="3.88" fill="#ed1450"/>
<rect x="110.16" y="123.19" width="3.97" height="3.88" fill="#c8115b"/>
<rect x="113.13" y="123.19" width="3.97" height="3.88" fill="#ce105a"/>
<rect x="116.10" y="123.19" width="6.94" height="3.88" fill="#ff8055"/>
<rect x="122.04" y="123.19" width="3.97" height="3.88" fill="#3a123d"/>
<rect x="125.01" y="123.19" width="3.97" height="3.88" fill="#ff9064"/>
<rect x="127.98" y="123.19" width="3.97" height="3.88" fill="#ff3140"/>
<rect x="130.95" y="123.19" width="3.97" height="3.88" fill="#d20f59"/>
<rect x="133.92" y="123.19" width="3.97" height="3.88" fill="#f41a4c"/>
<rect x="136.89" y="123.19" width="3.97" height="3.88" fill="#ff996c"/>
<rect x="139.86" y="123.19" width="3.97" height="3.88" fill="#ff6844"/>
<rect x="142.83" y="123.19" width="3.97" height="3.88" fill="#ffc4a1"/>
<rect x="145.80" y="123.19" width="3.97" height="3.88" fill="#ff6844"/>
<rect x="148.77" y="123.19" width="3.97" height="3.88" fill="#ff8055"/>
<rect x="151.74" y="123.19" width="3.97" height="3.88" fill="#ff6240"/>
<rect x="154.71" y="123.19" width="3.97" height="3.88" fill="#ff403c"/>
<rect x="157.68" y="123.19" width="3.97" height="3.88" fill="#ff6240"/>
<rect x="160.65" y="123.19" width="3.97" height="3.88" fill="#ff403c"/>
<rect x="163.62" y="123.19" width="3.97" height="3.88" fill="#ed1450"/>
<rect x="166.59" y="123.19" width="6.94" height="3.88" fill="#dc0f57"/>
<rect x="172.53" y="123.19" width="6.94" height="3.88" fill="#ff6844"/>
<rect x="178.47" y="123.19" width="6.94" height="3.88" fill="#ffc4a1"/>
<rect x="184.41" y="123.19" width="3.97" height="3.88" fill="#ff403c"/>
<rect x="187.38" y="123.19" width="3.97" height="3.88" fill="#ffbc97"/>
<rect x="190.35" y="123.19" width="3.97" height="3.88" fill="#ed1450"/>
<rect x="193.32" y="123.19" width="3.97" height="3.88" fill="#df0f55"/>
<rect x="196.29" y="123.19" width="3.97" height="3.88" fill="#ff3140"/>
<rect x="199.26" y="123.19" width="3.97" height="3.88" fill="#ff4b3b"/>
<rect x="202.23" y="123.19" width="6.94" height="3.88" fill="#d60f58"/>
<rect x="208.17" y="123.19" width="3.97" height="3.88" fill="#ffebdd"/>
<rect x="211.14" y="123.19" width="3.97" height="3.88" fill="#ffd0b3"/>
<rect x="214.11" y="123.19" width="3.97" height="3.88" fill="#bb135c"/>
<rect x="217.08" y="123.19" width="3.97" height="3.88" fill="#ff8055"/>
<rect x="220.05" y="123.19" width="3.97" height="3.88" fill="#ed1450"/>
<rect x="86.40" y="126.07" width="3.97" height="3.88" fill="#f91e49"/>
<rect x="89.37" y="126.07" width="3.97" height="3.88" fill="#ed1450"/>
<rect x="92.34" y="126.07" width="6.94" height="3.88" fill="#691851"/>
<rect x="98.28" y="126.07" width="6.94" height="3.88" fill="#ff996c"/>
<rect x="104.22" y="126.07" width="6.94" height="3.88" fill="#ed1450"/>
<rect x="110.16" y="126.07" width="3.97" height="3.88" fill="#c8115b"/>
<rect x="113.13" y="126.07" width="3.97" height="3.88" fill="#ce105a"/>
<rect x="116.10" y="126.07" width="6.94" height="3.88" fill="#ff8055"/>
<rect x="122.04" y="126.07" width="3.97" height="3.88" fill="#3a123d"/>
<rect x="125.01" y="126.07" width="3.97" height="3.88" fill="#ff9064"/>
<rect x="127.98" y="126.07" width="3.97" height="3.88" fill="#ff3140"/>
<rect x="130.95" y="126.07" width="3.97" height="3.88" fill="#d20f59"/>
<rect x="133.92" y="126.07" width="3.97" height="3.88" fill="#f41a4c"/>
<rect x="136.89" y="126.07" width="3.97" height="3.88" fill="#ff996c"/>
<rect x="139.86" y="126.07" width="3.97" height="3.88" fill="#ff6844"/>
<rect x="142.83" y="126.07" width="3.97" height="3.88" fill="#ffc4a1"/>
<rect x="145.80" y="126.07" width="3.97" height="3.88" fill="#ff6844"/>
<rect x="148.77" y="126.07" width="3.97" height="3.88" fill="#ff8055"/>
<rect x="151.74" y="126.07" width="3.97" height="3.88" fill="#ff6240"/>
<rect x="154.71" y="126.07" width="3.97" height="3.88" fill="#ff403c"/>
<rect x="157.68" y="126.07" width="3.97" height="3.88" fill="#ff6240"/>
<rect x="160.65" y="126.07" width="3.97" height="3.88" fill="#ff403c"/>
<rect x="163.62" y="126.07" width="3.97" height="3.88" fill="#ed1450"/>
<rect x="166.59" y="126.07" width="6.94" height="3.88" fill="#dc0f57"/>
<rect x="172.53" y="126.07" width="6.94" height="3.88" fill="#ff6844"/>
<rect x="178.47" y="126.07" width="6.94" height="3.88" fill="#ffc4a1"/>
<rect x="184.41" y="126.07" width="3.97" height="3.88" fill="#ff403c"/>
<rect x="187.38" y="126.07" width="3.97" height="3.88" fill="#ffbc97"/>
<rect x="190.35" y="126.07" width="3.97" height="3.88" fill="#ed1450"/>
<rect x="193.32" y="126.07" width="3.97" height="3.88" fill="#df0f55"/>
<rect x="196.29" y="126.07" width="3.97" height="3.88" fill="#ff3140"/>
<rect x="199.26" y="126.07" width="3.97" height="3.88" fill="#ff4b3b"/>
<rect x="202.23" y="126.07" width="6.94" height="3.88" fill="#d60f58"/>
<rect x="208.17" y="126.07" width="3.97" height="3.88" fill="#ffd0b3"/>
<rect x="211.14" y="126.07" width="3.97" height="3.88" fill="#ffebdd"/>
<rect x="214.11" y="126.07" width="3.97" height="3.88" fill="#c8115b"/>
<rect x="217.08" y="126.07" width="3.97" height="3.88" fill="#ff8055"/>
<rect x="220.05" y="126.07" width="3.97" height="3.88" fill="#ed1450"/>
<rect x="86.40" y="128.95" width="6.94" height="3.88" fill="#ed1450"/>
<rect x="92.34" y="128.95" width="6.94" height="3.88" fill="#df0f55"/>
<rect x="98.28" y="128.95" width="12.88" height="3.88" fill="#ed1450"/>
<rect x="110.16" y="128.95" width="6.94" height="3.88" fill="#ce105a"/>
<rect x="116.10" y="128.95" width="6.94" height="3.88" fill="#b0155d"/>
<rect x="122.04" y="128.95" width="3.97" height="3.88" fill="#df0f55"/>
<rect x="125.01" y="128.95" width="9.91" height="3.88" fill="#ed1450"/>
<rect x="133.92" y="128.95" width="3.97" height="3.88" fill="#bf125c"/>
<rect x="136.89" y="128.95" width="6.94" height="3.88" fill="#df0f55"/>
<rect x="142.83" y="128.95" width="3.97" height="3.88" fill="#b0155d"/>
<rect x="145.80" y="128.95" width="3.97" height="3.88" fill="#d60f58"/>
<rect x="148.77" y="128.95" width="3.97" height="3.88" fill="#df0f55"/>
<rect x="151.74" y="128.95" width="3.97" height="3.88" fill="#a6175d"/>
<rect x="154.71" y="128.95" width="3.97" height="3.88" fill="#c8115b"/>
<rect x="157.68" y="128.95" width="6.94" height="3.88" fill="#a6175d"/>
<rect x="163.62" y="128.95" width="9.91" height="3.88" fill="#ed1450"/>
<rect x="172.53" y="128.95" width="3.97" height="3.88" fill="#98185b"/>
<rect x="175.50" y="128.95" width="3.97" height="3.88" fill="#a6175d"/>
<rect x="178.47" y="128.95" width="3.97" height="3.88" fill="#b0155d"/>
<rect x="181.44" y="128.95" width="3.97" height="3.88" fill="#bb135c"/>
<rect x="184.41" y="128.95" width="3.97" height="3.88" fill="#04021b"/>
<rect x="187.38" y="128.95" width="3.97" height="3.88" fill="#d60f58"/>
<rect x="190.35" y="128.95" width="3.97" height="3.88" fill="#ed1450"/>
<rect x="193.32" y="128.95" width="3.97" height="3.88" fill="#c8115b"/>
<rect x="196.29" y="128.95" width="12.88" height="3.88" fill="#df0f55"/>
<rect x="208.17" y="128.95" width="3.97" height="3.88" fill="#bb135c"/>
<rect x="211.14" y="128.95" width="3.97" height="3.88" fill="#c8115b"/>
<rect x="214.11" y="128.95" width="3.97" height="3.88" fill="#ffebdd"/>
<rect x="217.08" y="128.95" width="6.94" height="3.88" fill="#df0f55"/>
<rect x="86.40" y="131.84" width="3.97" height="3.88" fill="#ff3140"/>
<rect x="89.37" y="131.84" width="3.97" height="3.88" fill="#ff8055"/>
<rect x="92.34" y="131.84" width="3.97" height="3.88" fill="#0d0521"/>
<rect x="95.31" y="131.84" width="3.97" height="3.88" fill="#511648"/>
<rect x="98.28" y="131.84" width="6.94" height="3.88" fill="#ffd8c1"/>
<rect x="104.22" y="131.84" width="9.91" height="3.88" fill="#ed1450"/>
<rect x="113.13" y="131.84" width="3.97" height="3.88" fill="#98185b"/>
<rect x="116.10" y="131.84" width="6.94" height="3.88" fill="#df0f55"/>
<rect x="122.04" y="131.84" width="3.97" height="3.88" fill="#04021b"/>
<rect x="125.01" y="131.84" width="3.97" height="3.88" fill="#ffc4a1"/>
<rect x="127.98" y="131.84" width="3.97" height="3.88" fill="#ff8055"/>
<rect x="130.95" y="131.84" width="3.97" height="3.88" fill="#ff2645"/>
<rect x="133.92" y="131.84" width="3.97" height="3.88" fill="#ed1450"/>
<rect x="136.89" y="131.84" width="3.97" height="3.88" fill="#ffb086"/>
<rect x="139.86" y="131.84" width="3.97" height="3.88" fill="#ff8055"/>
<rect x="142.83" y="131.84" width="3.97" height="3.88" fill="#ff6844"/>
<rect x="145.80" y="131.84" width="3.97" height="3.88" fill="#ff8055"/>
<rect x="148.77" y="131.84" width="3.97" height="3.88" fill="#ffb086"/>
<rect x="151.74" y="131.84" width="27.73" height="3.88" fill="#ed1450"/>
<rect x="178.47" y="131.84" width="3.97" height="3.88" fill="#ff4b3b"/>
<rect x="181.44" y="131.84" width="3.97" height="3.88" fill="#ff5c3e"/>
<rect x="184.41" y="131.84" width="3.97" height="3.88" fill="#f41a4c"/>
<rect x="187.38" y="131.84" width="3.97" height="3.88" fill="#ff6844"/>
<rect x="190.35" y="131.84" width="3.97" height="3.88" fill="#ed1450"/>
<rect x="193.32" y="131.84" width="3.97" height="3.88" fill="#bf125c"/>
<rect x="196.29" y="131.84" width="3.97" height="3.88" fill="#df0f55"/>
<rect x="199.26" y="131.84" width="3.97" height="3.88" fill="#ff3140"/>
<rect x="202.23" y="131.84" width="6.94" height="3.88" fill="#c8115b"/>
<rect x="208.17" y="131.84" width="6.94" height="3.88" fill="#ff8055"/>
<rect x="214.11" y="131.84" width="3.97" height="3.88" fill="#df0f55"/>
<rect x="217.08" y="131.84" width="3.97" height="3.88" fill="#ffebdd"/>
<rect x="220.05" y="131.84" width="3.97" height="3.88" fill="#8e195a"/>
<rect x="86.40" y="134.72" width="3.97" height="3.88" fill="#511648"/>
<rect x="89.37" y="134.72" width="3.97" height="3.88" fill="#1a0929"/>
<rect x="92.34" y="134.72" width="6.94" height="3.88" fill="#c8115b"/>
<rect x="98.28" y="134.72" width="6.94" height="3.88" fill="#f41a4c"/>
<rect x="104.22" y="134.72" width="3.97" height="3.88" fill="#ed1450"/>
<rect x="107.19" y="134.72" width="3.97" height="3.88" fill="#ff3140"/>
<rect x="110.16" y="134.72" width="3.97" height="3.88" fill="#ff6844"/>
<rect x="113.13" y="134.72" width="3.97" height="3.88" fill="#f41a4c"/>
<rect x="116.10" y="134.72" width="6.94" height="3.88" fill="#ed1450"/>
<rect x="122.04" y="134.72" width="3.97" height="3.88" fill="#df0f55"/>
<rect x="125.01" y="134.72" width="3.97" height="3.88" fill="#f41a4c"/>
<rect x="127.98" y="134.72" width="3.97" height="3.88" fill="#3a123d"/>
<rect x="130.95" y="134.72" width="3.97" height="3.88" fill="#ed1450"/>
<rect x="133.92" y="134.72" width="3.97" height="3.88" fill="#ff3140"/>
<rect x="136.89" y="134.72" width="6.94" height="3.88" fill="#b0155d"/>
<rect x="142.83" y="134.72" width="3.97" height="3.88" fill="#d60f58"/>
<rect x="145.80" y="134.72" width="3.97" height="3.88" fill="#bb135c"/>
<rect x="148.77" y="134.72" width="3.97" height="3.88" fill="#b0155d"/>
<rect x="151.74" y="134.72" width="12.88" height="3.88" fill="#ed1450"/>
<rect x="163.62" y="134.72" width="3.97" height="3.88" fill="#ff3140"/>
<rect x="166.59" y="134.72" width="24.76" height="3.88" fill="#ed1450"/>
<rect x="190.35" y="134.72" width="3.97" height="3.88" fill="#ff3140"/>
<rect x="193.32" y="134.72" width="3.97" height="3.88" fill="#ff3a3d"/>
<rect x="196.29" y="134.72" width="3.97" height="3.88" fill="#721954"/>
<rect x="199.26" y="134.72" width="9.91" height="3.88" fill="#f91e49"/>
<rect x="208.17" y="134.72" width="6.94" height="3.88" fill="#ed1450"/>
<rect x="214.11" y="134.72" width="3.97" height="3.88" fill="#df0f55"/>
<rect x="217.08" y="134.72" width="3.97" height="3.88" fill="#8e195a"/>
<rect x="220.05" y="134.72" width="3.97" height="3.88" fill="#ffebdd"/>
</g>
<rect x="223.02" y="3.90" width="1.3" height="135.71" fill="#fff"/>
<rect x="85.40" y="136.70" width="139.62" height="2.41" fill="#fff"/>
<g font-family="'DejaVu Sans', 'Liberation Sans', sans-serif" font-size="4.85" fill="#151515" stroke="#151515" stroke-width="0.10">
<text transform="translate(83.10 8.16) scale(1 1.040)" text-anchor="end">pkSeqID</text>
<text transform="translate(89.63 141.85) scale(1 1.040) rotate(-90)" text-anchor="end">pkSeqID</text>
<text transform="translate(83.10 13.93) scale(1 1.040)" text-anchor="end">flgs</text>
<text transform="translate(95.57 141.85) scale(1 1.040) rotate(-90)" text-anchor="end">flgs</text>
<text transform="translate(83.10 19.70) scale(1 1.040)" text-anchor="end">proto</text>
<text transform="translate(101.51 141.85) scale(1 1.040) rotate(-90)" text-anchor="end">proto</text>
<text transform="translate(83.10 25.47) scale(1 1.040)" text-anchor="end">saddr</text>
<text transform="translate(107.45 141.85) scale(1 1.040) rotate(-90)" text-anchor="end">saddr</text>
<text transform="translate(83.10 31.24) scale(1 1.040)" text-anchor="end">daddr</text>
<text transform="translate(113.39 141.85) scale(1 1.040) rotate(-90)" text-anchor="end">daddr</text>
<text transform="translate(83.10 37.01) scale(1 1.040)" text-anchor="end">pkts</text>
<text transform="translate(119.33 141.85) scale(1 1.040) rotate(-90)" text-anchor="end">pkts</text>
<text transform="translate(83.10 42.78) scale(1 1.040)" text-anchor="end">state</text>
<text transform="translate(125.27 141.85) scale(1 1.040) rotate(-90)" text-anchor="end">state</text>
<text transform="translate(83.10 48.55) scale(1 1.040)" text-anchor="end">ltime</text>
<text transform="translate(131.21 141.85) scale(1 1.040) rotate(-90)" text-anchor="end">ltime</text>
<text transform="translate(83.10 54.32) scale(1 1.040)" text-anchor="end">dur</text>
<text transform="translate(137.15 141.85) scale(1 1.040) rotate(-90)" text-anchor="end">dur</text>
<text transform="translate(83.10 60.09) scale(1 1.040)" text-anchor="end">stddev</text>
<text transform="translate(143.09 141.85) scale(1 1.040) rotate(-90)" text-anchor="end">stddev</text>
<text transform="translate(83.10 65.86) scale(1 1.040)" text-anchor="end">min</text>
<text transform="translate(149.03 141.85) scale(1 1.040) rotate(-90)" text-anchor="end">min</text>
<text transform="translate(83.10 71.63) scale(1 1.040)" text-anchor="end">spkts</text>
<text transform="translate(154.97 141.85) scale(1 1.040) rotate(-90)" text-anchor="end">spkts</text>
<text transform="translate(83.10 77.40) scale(1 1.040)" text-anchor="end">sbytes</text>
<text transform="translate(160.91 141.85) scale(1 1.040) rotate(-90)" text-anchor="end">sbytes</text>
<text transform="translate(83.10 83.17) scale(1 1.040)" text-anchor="end">rate</text>
<text transform="translate(166.85 141.85) scale(1 1.040) rotate(-90)" text-anchor="end">rate</text>
<text transform="translate(83.10 88.94) scale(1 1.040)" text-anchor="end">drate</text>
<text transform="translate(172.79 141.85) scale(1 1.040) rotate(-90)" text-anchor="end">drate</text>
<text transform="translate(83.10 94.71) scale(1 1.040)" text-anchor="end">TnBPDstIP</text>
<text transform="translate(178.73 141.85) scale(1 1.040) rotate(-90)" text-anchor="end">TnBPDstIP</text>
<text transform="translate(83.10 100.48) scale(1 1.040)" text-anchor="end">TnP_PDstIP</text>
<text transform="translate(184.67 141.85) scale(1 1.040) rotate(-90)" text-anchor="end">TnP_PDstIP</text>
<text transform="translate(83.10 106.25) scale(1 1.040)" text-anchor="end">TnP_Per_Dport</text>
<text transform="translate(190.61 141.85) scale(1 1.040) rotate(-90)" text-anchor="end">TnP_Per_Dport</text>
<text transform="translate(83.10 112.02) scale(1 1.040)" text-anchor="end">AR_P_Proto_P_DstIP</text>
<text transform="translate(196.55 141.85) scale(1 1.040) rotate(-90)" text-anchor="end">AR_P_Proto_P_DstIP</text>
<text transform="translate(83.10 117.79) scale(1 1.040)" text-anchor="end">N_IN_Conn_P_SrcIP</text>
<text transform="translate(202.49 141.85) scale(1 1.040) rotate(-90)" text-anchor="end">N_IN_Conn_P_SrcIP</text>
<text transform="translate(83.10 123.56) scale(1 1.040)" text-anchor="end">AR_P_Proto_P_Dport</text>
<text transform="translate(208.43 141.85) scale(1 1.040) rotate(-90)" text-anchor="end">AR_P_Proto_P_Dport</text>
<text transform="translate(83.10 129.33) scale(1 1.040)" text-anchor="end">Pkts_P_State_P_Protocol_P_SrcIP</text>
<text transform="translate(214.37 141.85) scale(1 1.040) rotate(-90)" text-anchor="end">Pkts_P_State_P_Protocol_P_SrcIP</text>
<text transform="translate(83.10 135.10) scale(1 1.040)" text-anchor="end">subcategory</text>
<text transform="translate(220.31 141.85) scale(1 1.040) rotate(-90)" text-anchor="end">subcategory</text>
<rect x="231.80" y="4.90" width="5.70" height="132.71" fill="url(#rk)" stroke="none"/>
<rect x="230.80" y="136.70" width="7.70" height="2.41" fill="#fff" stroke="none"/>
<text transform="translate(240.80 6.72) scale(1 1.040)">1.00</text>
<text transform="translate(240.80 23.59) scale(1 1.040)">0.75</text>
<text transform="translate(240.80 40.47) scale(1 1.040)">0.50</text>
<text transform="translate(240.80 57.34) scale(1 1.040)">0.25</text>
<text transform="translate(240.80 74.22) scale(1 1.040)">0.00</text>
<text transform="translate(240.80 91.09) scale(1 1.040)">−0.25</text>
<text transform="translate(240.80 107.97) scale(1 1.040)">−0.50</text>
<text transform="translate(240.80 124.84) scale(1 1.040)">−0.75</text>
</g>
<path d="M84.75 6.34h1.65M87.89 136.70v1.65M84.75 12.11h1.65M93.83 136.70v1.65M84.75 17.88h1.65M99.77 136.70v1.65M84.75 23.65h1.65M105.71 136.70v1.65M84.75 29.42h1.65M111.65 136.70v1.65M84.75 35.19h1.65M117.59 136.70v1.65M84.75 40.96h1.65M123.53 136.70v1.65M84.75 46.73h1.65M129.47 136.70v1.65M84.75 52.50h1.65M135.41 136.70v1.65M84.75 58.27h1.65M141.34 136.70v1.65M84.75 64.04h1.65M147.29 136.70v1.65M84.75 69.81h1.65M153.23 136.70v1.65M84.75 75.58h1.65M159.17 136.70v1.65M84.75 81.35h1.65M165.11 136.70v1.65M84.75 87.12h1.65M171.05 136.70v1.65M84.75 92.89h1.65M176.99 136.70v1.65M84.75 98.66h1.65M182.93 136.70v1.65M84.75 104.43h1.65M188.87 136.70v1.65M84.75 110.20h1.65M194.81 136.70v1.65M84.75 115.97h1.65M200.75 136.70v1.65M84.75 121.74h1.65M206.69 136.70v1.65M84.75 127.51h1.65M212.62 136.70v1.65M84.75 133.28h1.65M218.57 136.70v1.65M237.50 4.90h1.65M237.50 21.77h1.65M237.50 38.65h1.65M237.50 55.52h1.65M237.50 72.40h1.65M237.50 89.28h1.65M237.50 106.15h1.65M237.50 123.03h1.65" stroke="#151515" stroke-width="0.42" fill="none"/>
<g>
<rect x="344.50" y="4.95" width="4.69" height="4.33" fill="#ffebdd"/>
<rect x="348.19" y="4.95" width="4.69" height="4.33" fill="#cc105a"/>
<rect x="351.87" y="4.95" width="8.37" height="4.33" fill="#bd135c"/>
<rect x="359.25" y="4.95" width="4.69" height="4.33" fill="#57174b"/>
<rect x="362.94" y="4.95" width="4.69" height="4.33" fill="#8e195a"/>
<rect x="366.62" y="4.95" width="4.69" height="4.33" fill="#ed1450"/>
<rect x="370.31" y="4.95" width="12.06" height="4.33" fill="#8e195a"/>
<rect x="381.37" y="4.95" width="4.69" height="4.33" fill="#ff3c3c"/>
<rect x="385.06" y="4.95" width="19.43" height="4.33" fill="#8e195a"/>
<rect x="403.49" y="4.95" width="4.69" height="4.33" fill="#92195b"/>
<rect x="407.18" y="4.95" width="4.69" height="4.33" fill="#741955"/>
<rect x="410.87" y="4.95" width="12.06" height="4.33" fill="#92195b"/>
<rect x="421.93" y="4.95" width="4.69" height="4.33" fill="#7a1956"/>
<rect x="425.61" y="4.95" width="4.69" height="4.33" fill="#92195b"/>
<rect x="429.30" y="4.95" width="74.74" height="4.33" fill="#8e195a"/>
<rect x="503.04" y="4.95" width="4.69" height="4.33" fill="#ff6240"/>
<rect x="506.73" y="4.95" width="4.69" height="4.33" fill="#801958"/>
<rect x="344.50" y="8.29" width="4.69" height="4.33" fill="#cc105a"/>
<rect x="348.19" y="8.29" width="4.69" height="4.33" fill="#ffebdd"/>
<rect x="351.87" y="8.29" width="4.69" height="4.33" fill="#3e133f"/>
<rect x="355.56" y="8.29" width="4.69" height="4.33" fill="#ff573d"/>
<rect x="359.25" y="8.29" width="4.69" height="4.33" fill="#711954"/>
<rect x="362.94" y="8.29" width="4.69" height="4.33" fill="#8e195a"/>
<rect x="366.62" y="8.29" width="4.69" height="4.33" fill="#98185b"/>
<rect x="370.31" y="8.29" width="12.06" height="4.33" fill="#8e195a"/>
<rect x="381.37" y="8.29" width="4.69" height="4.33" fill="#d00f59"/>
<rect x="385.06" y="8.29" width="19.43" height="4.33" fill="#8e195a"/>
<rect x="403.49" y="8.29" width="15.75" height="4.33" fill="#a8165d"/>
<rect x="418.24" y="8.29" width="15.75" height="4.33" fill="#98185b"/>
<rect x="432.99" y="8.29" width="74.74" height="4.33" fill="#8e195a"/>
<rect x="506.73" y="8.29" width="4.69" height="4.33" fill="#801958"/>
<rect x="344.50" y="11.62" width="4.69" height="4.33" fill="#bd135c"/>
<rect x="348.19" y="11.62" width="4.69" height="4.33" fill="#3e133f"/>
<rect x="351.87" y="11.62" width="4.69" height="4.33" fill="#ffebdd"/>
<rect x="355.56" y="11.62" width="8.37" height="4.33" fill="#711954"/>
<rect x="362.94" y="11.62" width="4.69" height="4.33" fill="#a8165d"/>
<rect x="366.62" y="11.62" width="4.69" height="4.33" fill="#c6115b"/>
<rect x="370.31" y="11.62" width="12.06" height="4.33" fill="#8e195a"/>
<rect x="381.37" y="11.62" width="4.69" height="4.33" fill="#ed1450"/>
<rect x="385.06" y="11.62" width="23.12" height="4.33" fill="#8e195a"/>
<rect x="407.18" y="11.62" width="8.37" height="4.33" fill="#651850"/>
<rect x="414.55" y="11.62" width="4.69" height="4.33" fill="#8e195a"/>
<rect x="418.24" y="11.62" width="8.37" height="4.33" fill="#651850"/>
<rect x="425.61" y="11.62" width="8.37" height="4.33" fill="#7a1956"/>
<rect x="432.99" y="11.62" width="74.74" height="4.33" fill="#8e195a"/>
<rect x="506.73" y="11.62" width="4.69" height="4.33" fill="#801958"/>
<rect x="344.50" y="14.95" width="4.69" height="4.33" fill="#bd135c"/>
<rect x="348.19" y="14.95" width="4.69" height="4.33" fill="#ff573d"/>
<rect x="351.87" y="14.95" width="4.69" height="4.33" fill="#711954"/>
<rect x="355.56" y="14.95" width="4.69" height="4.33" fill="#ffebdd"/>
<rect x="359.25" y="14.95" width="4.69" height="4.33" fill="#711954"/>
<rect x="362.94" y="14.95" width="4.69" height="4.33" fill="#d60f58"/>
<rect x="366.62" y="14.95" width="4.69" height="4.33" fill="#a2175c"/>
<rect x="370.31" y="14.95" width="12.06" height="4.33" fill="#8e195a"/>
<rect x="381.37" y="14.95" width="4.69" height="4.33" fill="#bd135c"/>
<rect x="385.06" y="14.95" width="19.43" height="4.33" fill="#8e195a"/>
<rect x="403.49" y="14.95" width="4.69" height="4.33" fill="#f41a4c"/>
<rect x="407.18" y="14.95" width="4.69" height="4.33" fill="#d60f58"/>
<rect x="410.87" y="14.95" width="4.69" height="4.33" fill="#ed1450"/>
<rect x="414.55" y="14.95" width="4.69" height="4.33" fill="#98185b"/>
<rect x="418.24" y="14.95" width="4.69" height="4.33" fill="#fe2546"/>
<rect x="421.93" y="14.95" width="12.06" height="4.33" fill="#e31054"/>
<rect x="432.99" y="14.95" width="71.05" height="4.33" fill="#8e195a"/>
<rect x="503.04" y="14.95" width="4.69" height="4.33" fill="#511648"/>
<rect x="506.73" y="14.95" width="4.69" height="4.33" fill="#801958"/>
<rect x="344.50" y="18.29" width="4.69" height="4.33" fill="#57174b"/>
<rect x="348.19" y="18.29" width="12.06" height="4.33" fill="#711954"/>
<rect x="359.25" y="18.29" width="4.69" height="4.33" fill="#ffebdd"/>
<rect x="362.94" y="18.29" width="4.69" height="4.33" fill="#881959"/>
<rect x="366.62" y="18.29" width="4.69" height="4.33" fill="#57174b"/>
<rect x="370.31" y="18.29" width="12.06" height="4.33" fill="#8e195a"/>
<rect x="381.37" y="18.29" width="4.69" height="4.33" fill="#250c30"/>
<rect x="385.06" y="18.29" width="19.43" height="4.33" fill="#8e195a"/>
<rect x="403.49" y="18.29" width="4.69" height="4.33" fill="#250c30"/>
<rect x="407.18" y="18.29" width="12.06" height="4.33" fill="#711954"/>
<rect x="418.24" y="18.29" width="15.75" height="4.33" fill="#1c092a"/>
<rect x="432.99" y="18.29" width="71.05" height="4.33" fill="#8e195a"/>
<rect x="503.04" y="18.29" width="4.69" height="4.33" fill="#3e133f"/>
<rect x="506.73" y="18.29" width="4.69" height="4.33" fill="#801958"/>
<rect x="344.50" y="21.62" width="8.37" height="4.33" fill="#8e195a"/>
<rect x="351.87" y="21.62" width="4.69" height="4.33" fill="#a8165d"/>
<rect x="355.56" y="21.62" width="4.69" height="4.33" fill="#d60f58"/>
<rect x="359.25" y="21.62" width="4.69" height="4.33" fill="#881959"/>
<rect x="362.94" y="21.62" width="4.69" height="4.33" fill="#ffebdd"/>
<rect x="366.62" y="21.62" width="4.69" height="4.33" fill="#da0f57"/>
<rect x="370.31" y="21.62" width="12.06" height="4.33" fill="#8e195a"/>
<rect x="381.37" y="21.62" width="4.69" height="4.33" fill="#ff573d"/>
<rect x="385.06" y="21.62" width="19.43" height="4.33" fill="#8e195a"/>
<rect x="403.49" y="21.62" width="4.69" height="4.33" fill="#ff8d60"/>
<rect x="407.18" y="21.62" width="4.69" height="4.33" fill="#ed1450"/>
<rect x="410.87" y="21.62" width="4.69" height="4.33" fill="#fe2546"/>
<rect x="414.55" y="21.62" width="4.69" height="4.33" fill="#d60f58"/>
<rect x="418.24" y="21.62" width="15.75" height="4.33" fill="#ff895d"/>
<rect x="432.99" y="21.62" width="71.05" height="4.33" fill="#8e195a"/>
<rect x="503.04" y="21.62" width="4.69" height="4.33" fill="#09041f"/>
<rect x="506.73" y="21.62" width="4.69" height="4.33" fill="#801958"/>
<rect x="344.50" y="24.96" width="4.69" height="4.33" fill="#ed1450"/>
<rect x="348.19" y="24.96" width="4.69" height="4.33" fill="#98185b"/>
<rect x="351.87" y="24.96" width="4.69" height="4.33" fill="#c6115b"/>
<rect x="355.56" y="24.96" width="4.69" height="4.33" fill="#a2175c"/>
<rect x="359.25" y="24.96" width="4.69" height="4.33" fill="#57174b"/>
<rect x="362.94" y="24.96" width="4.69" height="4.33" fill="#da0f57"/>
<rect x="366.62" y="24.96" width="4.69" height="4.33" fill="#ffebdd"/>
<rect x="370.31" y="24.96" width="12.06" height="4.33" fill="#8e195a"/>
<rect x="381.37" y="24.96" width="4.69" height="4.33" fill="#ff895d"/>
<rect x="385.06" y="24.96" width="19.43" height="4.33" fill="#8e195a"/>
<rect x="403.49" y="24.96" width="4.69" height="4.33" fill="#ff573d"/>
<rect x="407.18" y="24.96" width="12.06" height="4.33" fill="#ed1450"/>
<rect x="418.24" y="24.96" width="15.75" height="4.33" fill="#ff3c3c"/>
<rect x="432.99" y="24.96" width="8.37" height="4.33" fill="#92195b"/>
<rect x="440.36" y="24.96" width="4.69" height="4.33" fill="#a2175c"/>
<rect x="444.05" y="24.96" width="59.99" height="4.33" fill="#92195b"/>
<rect x="503.04" y="24.96" width="4.69" height="4.33" fill="#8e195a"/>
<rect x="506.73" y="24.96" width="4.69" height="4.33" fill="#801958"/>
<rect x="344.50" y="28.29" width="26.81" height="4.33" fill="#8e195a"/>
<rect x="370.31" y="28.29" width="4.69" height="4.33" fill="#ffebdd"/>
<rect x="374.00" y="28.29" width="15.75" height="4.33" fill="#8e195a"/>
<rect x="388.74" y="28.29" width="4.69" height="4.33" fill="#fe2546"/>
<rect x="392.43" y="28.29" width="4.69" height="4.33" fill="#d60f58"/>
<rect x="396.12" y="28.29" width="4.69" height="4.33" fill="#fe2546"/>
<rect x="399.81" y="28.29" width="107.92" height="4.33" fill="#8e195a"/>
<rect x="506.73" y="28.29" width="4.69" height="4.33" fill="#801958"/>
<rect x="344.50" y="31.63" width="30.50" height="4.33" fill="#8e195a"/>
<rect x="374.00" y="31.63" width="4.69" height="4.33" fill="#ffebdd"/>
<rect x="377.68" y="31.63" width="4.69" height="4.33" fill="#ff895d"/>
<rect x="381.37" y="31.63" width="4.69" height="4.33" fill="#8e195a"/>
<rect x="385.06" y="31.63" width="4.69" height="4.33" fill="#d60f58"/>
<rect x="388.74" y="31.63" width="118.98" height="4.33" fill="#8e195a"/>
<rect x="506.73" y="31.63" width="4.69" height="4.33" fill="#801958"/>
<rect x="344.50" y="34.97" width="30.50" height="4.33" fill="#8e195a"/>
<rect x="374.00" y="34.97" width="4.69" height="4.33" fill="#ff895d"/>
<rect x="377.68" y="34.97" width="4.69" height="4.33" fill="#ffebdd"/>
<rect x="381.37" y="34.97" width="4.69" height="4.33" fill="#8e195a"/>
<rect x="385.06" y="34.97" width="4.69" height="4.33" fill="#d60f58"/>
<rect x="388.74" y="34.97" width="118.98" height="4.33" fill="#8e195a"/>
<rect x="506.73" y="34.97" width="4.69" height="4.33" fill="#801958"/>
<rect x="344.50" y="38.30" width="4.69" height="4.33" fill="#ff3c3c"/>
<rect x="348.19" y="38.30" width="4.69" height="4.33" fill="#d00f59"/>
<rect x="351.87" y="38.30" width="4.69" height="4.33" fill="#ed1450"/>
<rect x="355.56" y="38.30" width="4.69" height="4.33" fill="#bd135c"/>
<rect x="359.25" y="38.30" width="4.69" height="4.33" fill="#250c30"/>
<rect x="362.94" y="38.30" width="4.69" height="4.33" fill="#ff573d"/>
<rect x="366.62" y="38.30" width="4.69" height="4.33" fill="#ff895d"/>
<rect x="370.31" y="38.30" width="12.06" height="4.33" fill="#8e195a"/>
<rect x="381.37" y="38.30" width="4.69" height="4.33" fill="#ffebdd"/>
<rect x="385.06" y="38.30" width="19.43" height="4.33" fill="#8e195a"/>
<rect x="403.49" y="38.30" width="4.69" height="4.33" fill="#ff333f"/>
<rect x="407.18" y="38.30" width="12.06" height="4.33" fill="#bd135c"/>
<rect x="418.24" y="38.30" width="15.75" height="4.33" fill="#ff333f"/>
<rect x="432.99" y="38.30" width="8.37" height="4.33" fill="#8e195a"/>
<rect x="440.36" y="38.30" width="4.69" height="4.33" fill="#96185b"/>
<rect x="444.05" y="38.30" width="52.62" height="4.33" fill="#8e195a"/>
<rect x="495.67" y="38.30" width="4.69" height="4.33" fill="#98185b"/>
<rect x="499.35" y="38.30" width="8.37" height="4.33" fill="#8e195a"/>
<rect x="506.73" y="38.30" width="4.69" height="4.33" fill="#c1125c"/>
<rect x="344.50" y="41.64" width="30.50" height="4.33" fill="#8e195a"/>
<rect x="374.00" y="41.64" width="8.37" height="4.33" fill="#d60f58"/>
<rect x="381.37" y="41.64" width="4.69" height="4.33" fill="#8e195a"/>
<rect x="385.06" y="41.64" width="4.69" height="4.33" fill="#ffebdd"/>
<rect x="388.74" y="41.64" width="85.80" height="4.33" fill="#8e195a"/>
<rect x="473.54" y="41.64" width="4.69" height="4.33" fill="#96185b"/>
<rect x="477.23" y="41.64" width="30.50" height="4.33" fill="#8e195a"/>
<rect x="506.73" y="41.64" width="4.69" height="4.33" fill="#801958"/>
<rect x="344.50" y="44.97" width="26.81" height="4.33" fill="#8e195a"/>
<rect x="370.31" y="44.97" width="4.69" height="4.33" fill="#fe2546"/>
<rect x="374.00" y="44.97" width="15.75" height="4.33" fill="#8e195a"/>
<rect x="388.74" y="44.97" width="4.69" height="4.33" fill="#ffebdd"/>
<rect x="392.43" y="44.97" width="4.69" height="4.33" fill="#ff895d"/>
<rect x="396.12" y="44.97" width="4.69" height="4.33" fill="#ed1450"/>
<rect x="399.81" y="44.97" width="4.69" height="4.33" fill="#d60f58"/>
<rect x="403.49" y="44.97" width="71.05" height="4.33" fill="#8e195a"/>
<rect x="473.54" y="44.97" width="4.69" height="4.33" fill="#96185b"/>
<rect x="477.23" y="44.97" width="15.75" height="4.33" fill="#8e195a"/>
<rect x="491.98" y="44.97" width="4.69" height="4.33" fill="#98185b"/>
<rect x="495.67" y="44.97" width="12.06" height="4.33" fill="#8e195a"/>
<rect x="506.73" y="44.97" width="4.69" height="4.33" fill="#801958"/>
<rect x="344.50" y="48.30" width="26.81" height="4.33" fill="#8e195a"/>
<rect x="370.31" y="48.30" width="4.69" height="4.33" fill="#d60f58"/>
<rect x="374.00" y="48.30" width="15.75" height="4.33" fill="#8e195a"/>
<rect x="388.74" y="48.30" width="4.69" height="4.33" fill="#ff895d"/>
<rect x="392.43" y="48.30" width="4.69" height="4.33" fill="#ffebdd"/>
<rect x="396.12" y="48.30" width="4.69" height="4.33" fill="#ed1450"/>
<rect x="399.81" y="48.30" width="4.69" height="4.33" fill="#d60f58"/>
<rect x="403.49" y="48.30" width="104.24" height="4.33" fill="#8e195a"/>
<rect x="506.73" y="48.30" width="4.69" height="4.33" fill="#801958"/>
<rect x="344.50" y="51.64" width="26.81" height="4.33" fill="#8e195a"/>
<rect x="370.31" y="51.64" width="4.69" height="4.33" fill="#fe2546"/>
<rect x="374.00" y="51.64" width="15.75" height="4.33" fill="#8e195a"/>
<rect x="388.74" y="51.64" width="8.37" height="4.33" fill="#ed1450"/>
<rect x="396.12" y="51.64" width="4.69" height="4.33" fill="#ffebdd"/>
<rect x="399.81" y="51.64" width="4.69" height="4.33" fill="#ff573d"/>
<rect x="403.49" y="51.64" width="104.24" height="4.33" fill="#8e195a"/>
<rect x="506.73" y="51.64" width="4.69" height="4.33" fill="#801958"/>
<rect x="344.50" y="54.98" width="45.24" height="4.33" fill="#8e195a"/>
<rect x="388.74" y="54.98" width="8.37" height="4.33" fill="#d60f58"/>
<rect x="396.12" y="54.98" width="4.69" height="4.33" fill="#ff573d"/>
<rect x="399.81" y="54.98" width="4.69" height="4.33" fill="#ffebdd"/>
<rect x="403.49" y="54.98" width="71.05" height="4.33" fill="#8e195a"/>
<rect x="473.54" y="54.98" width="4.69" height="4.33" fill="#a2175c"/>
<rect x="477.23" y="54.98" width="30.50" height="4.33" fill="#8e195a"/>
<rect x="506.73" y="54.98" width="4.69" height="4.33" fill="#801958"/>
<rect x="344.50" y="58.31" width="4.69" height="4.33" fill="#92195b"/>
<rect x="348.19" y="58.31" width="4.69" height="4.33" fill="#a8165d"/>
<rect x="351.87" y="58.31" width="4.69" height="4.33" fill="#8e195a"/>
<rect x="355.56" y="58.31" width="4.69" height="4.33" fill="#f41a4c"/>
<rect x="359.25" y="58.31" width="4.69" height="4.33" fill="#250c30"/>
<rect x="362.94" y="58.31" width="4.69" height="4.33" fill="#ff8d60"/>
<rect x="366.62" y="58.31" width="4.69" height="4.33" fill="#ff573d"/>
<rect x="370.31" y="58.31" width="12.06" height="4.33" fill="#8e195a"/>
<rect x="381.37" y="58.31" width="4.69" height="4.33" fill="#ff333f"/>
<rect x="385.06" y="58.31" width="19.43" height="4.33" fill="#8e195a"/>
<rect x="403.49" y="58.31" width="4.69" height="4.33" fill="#ffebdd"/>
<rect x="407.18" y="58.31" width="4.69" height="4.33" fill="#d60f58"/>
<rect x="410.87" y="58.31" width="4.69" height="4.33" fill="#ff333f"/>
<rect x="414.55" y="58.31" width="4.69" height="4.33" fill="#ed1450"/>
<rect x="418.24" y="58.31" width="15.75" height="4.33" fill="#ffc7a6"/>
<rect x="432.99" y="58.31" width="71.05" height="4.33" fill="#8e195a"/>
<rect x="503.04" y="58.31" width="4.69" height="4.33" fill="#4d1546"/>
<rect x="506.73" y="58.31" width="4.69" height="4.33" fill="#801958"/>
<rect x="344.50" y="61.65" width="4.69" height="4.33" fill="#741955"/>
<rect x="348.19" y="61.65" width="4.69" height="4.33" fill="#a8165d"/>
<rect x="351.87" y="61.65" width="4.69" height="4.33" fill="#651850"/>
<rect x="355.56" y="61.65" width="4.69" height="4.33" fill="#d60f58"/>
<rect x="359.25" y="61.65" width="4.69" height="4.33" fill="#711954"/>
<rect x="362.94" y="61.65" width="8.37" height="4.33" fill="#ed1450"/>
<rect x="370.31" y="61.65" width="12.06" height="4.33" fill="#8e195a"/>
<rect x="381.37" y="61.65" width="4.69" height="4.33" fill="#bd135c"/>
<rect x="385.06" y="61.65" width="19.43" height="4.33" fill="#8e195a"/>
<rect x="403.49" y="61.65" width="4.69" height="4.33" fill="#d60f58"/>
<rect x="407.18" y="61.65" width="4.69" height="4.33" fill="#ffebdd"/>
<rect x="410.87" y="61.65" width="4.69" height="4.33" fill="#d60f58"/>
<rect x="414.55" y="61.65" width="4.69" height="4.33" fill="#881959"/>
<rect x="418.24" y="61.65" width="15.75" height="4.33" fill="#e31054"/>
<rect x="432.99" y="61.65" width="74.74" height="4.33" fill="#8e195a"/>
<rect x="506.73" y="61.65" width="4.69" height="4.33" fill="#801958"/>
<rect x="344.50" y="64.98" width="4.69" height="4.33" fill="#92195b"/>
<rect x="348.19" y="64.98" width="4.69" height="4.33" fill="#a8165d"/>
<rect x="351.87" y="64.98" width="4.69" height="4.33" fill="#651850"/>
<rect x="355.56" y="64.98" width="4.69" height="4.33" fill="#ed1450"/>
<rect x="359.25" y="64.98" width="4.69" height="4.33" fill="#711954"/>
<rect x="362.94" y="64.98" width="4.69" height="4.33" fill="#fe2546"/>
<rect x="366.62" y="64.98" width="4.69" height="4.33" fill="#ed1450"/>
<rect x="370.31" y="64.98" width="12.06" height="4.33" fill="#8e195a"/>
<rect x="381.37" y="64.98" width="4.69" height="4.33" fill="#bd135c"/>
<rect x="385.06" y="64.98" width="19.43" height="4.33" fill="#8e195a"/>
<rect x="403.49" y="64.98" width="4.69" height="4.33" fill="#ff333f"/>
<rect x="407.18" y="64.98" width="4.69" height="4.33" fill="#d60f58"/>
<rect x="410.87" y="64.98" width="4.69" height="4.33" fill="#ffebdd"/>
<rect x="414.55" y="64.98" width="4.69" height="4.33" fill="#7e1957"/>
<rect x="418.24" y="64.98" width="4.69" height="4.33" fill="#ff573d"/>
<rect x="421.93" y="64.98" width="8.37" height="4.33" fill="#ff3c3c"/>
<rect x="429.30" y="64.98" width="4.69" height="4.33" fill="#ff573d"/>
<rect x="432.99" y="64.98" width="71.05" height="4.33" fill="#8e195a"/>
<rect x="503.04" y="64.98" width="4.69" height="4.33" fill="#651850"/>
<rect x="506.73" y="64.98" width="4.69" height="4.33" fill="#801958"/>
<rect x="344.50" y="68.31" width="4.69" height="4.33" fill="#92195b"/>
<rect x="348.19" y="68.31" width="4.69" height="4.33" fill="#a8165d"/>
<rect x="351.87" y="68.31" width="4.69" height="4.33" fill="#8e195a"/>
<rect x="355.56" y="68.31" width="4.69" height="4.33" fill="#98185b"/>
<rect x="359.25" y="68.31" width="4.69" height="4.33" fill="#711954"/>
<rect x="362.94" y="68.31" width="4.69" height="4.33" fill="#d60f58"/>
<rect x="366.62" y="68.31" width="4.69" height="4.33" fill="#ed1450"/>
<rect x="370.31" y="68.31" width="12.06" height="4.33" fill="#8e195a"/>
<rect x="381.37" y="68.31" width="4.69" height="4.33" fill="#bd135c"/>
<rect x="385.06" y="68.31" width="19.43" height="4.33" fill="#8e195a"/>
<rect x="403.49" y="68.31" width="4.69" height="4.33" fill="#ed1450"/>
<rect x="407.18" y="68.31" width="4.69" height="4.33" fill="#881959"/>
<rect x="410.87" y="68.31" width="4.69" height="4.33" fill="#7e1957"/>
<rect x="414.55" y="68.31" width="4.69" height="4.33" fill="#ffebdd"/>
<rect x="418.24" y="68.31" width="12.06" height="4.33" fill="#ff333f"/>
<rect x="429.30" y="68.31" width="4.69" height="4.33" fill="#ff573d"/>
<rect x="432.99" y="68.31" width="71.05" height="4.33" fill="#8e195a"/>
<rect x="503.04" y="68.31" width="4.69" height="4.33" fill="#7a1956"/>
<rect x="506.73" y="68.31" width="4.69" height="4.33" fill="#711954"/>
<rect x="344.50" y="71.65" width="4.69" height="4.33" fill="#92195b"/>
<rect x="348.19" y="71.65" width="4.69" height="4.33" fill="#98185b"/>
<rect x="351.87" y="71.65" width="4.69" height="4.33" fill="#651850"/>
<rect x="355.56" y="71.65" width="4.69" height="4.33" fill="#fe2546"/>
<rect x="359.25" y="71.65" width="4.69" height="4.33" fill="#1c092a"/>
<rect x="362.94" y="71.65" width="4.69" height="4.33" fill="#ff895d"/>
<rect x="366.62" y="71.65" width="4.69" height="4.33" fill="#ff3c3c"/>
<rect x="370.31" y="71.65" width="12.06" height="4.33" fill="#8e195a"/>
<rect x="381.37" y="71.65" width="4.69" height="4.33" fill="#ff333f"/>
<rect x="385.06" y="71.65" width="19.43" height="4.33" fill="#8e195a"/>
<rect x="403.49" y="71.65" width="4.69" height="4.33" fill="#ffc7a6"/>
<rect x="407.18" y="71.65" width="4.69" height="4.33" fill="#e31054"/>
<rect x="410.87" y="71.65" width="4.69" height="4.33" fill="#ff573d"/>
<rect x="414.55" y="71.65" width="4.69" height="4.33" fill="#ff333f"/>
<rect x="418.24" y="71.65" width="4.69" height="4.33" fill="#ffebdd"/>
<rect x="421.93" y="71.65" width="12.06" height="4.33" fill="#ffd3b8"/>
<rect x="432.99" y="71.65" width="71.05" height="4.33" fill="#8e195a"/>
<rect x="503.04" y="71.65" width="4.69" height="4.33" fill="#481444"/>
<rect x="506.73" y="71.65" width="4.69" height="4.33" fill="#711954"/>
<rect x="344.50" y="74.98" width="4.69" height="4.33" fill="#7a1956"/>
<rect x="348.19" y="74.98" width="4.69" height="4.33" fill="#98185b"/>
<rect x="351.87" y="74.98" width="4.69" height="4.33" fill="#651850"/>
<rect x="355.56" y="74.98" width="4.69" height="4.33" fill="#e31054"/>
<rect x="359.25" y="74.98" width="4.69" height="4.33" fill="#1c092a"/>
<rect x="362.94" y="74.98" width="4.69" height="4.33" fill="#ff895d"/>
<rect x="366.62" y="74.98" width="4.69" height="4.33" fill="#ff3c3c"/>
<rect x="370.31" y="74.98" width="12.06" height="4.33" fill="#8e195a"/>
<rect x="381.37" y="74.98" width="4.69" height="4.33" fill="#ff333f"/>
<rect x="385.06" y="74.98" width="19.43" height="4.33" fill="#8e195a"/>
<rect x="403.49" y="74.98" width="4.69" height="4.33" fill="#ffc7a6"/>
<rect x="407.18" y="74.98" width="4.69" height="4.33" fill="#e31054"/>
<rect x="410.87" y="74.98" width="4.69" height="4.33" fill="#ff3c3c"/>
<rect x="414.55" y="74.98" width="4.69" height="4.33" fill="#ff333f"/>
<rect x="418.24" y="74.98" width="4.69" height="4.33" fill="#ffd3b8"/>
<rect x="421.93" y="74.98" width="4.69" height="4.33" fill="#ffebdd"/>
<rect x="425.61" y="74.98" width="8.37" height="4.33" fill="#ffd3b8"/>
<rect x="432.99" y="74.98" width="71.05" height="4.33" fill="#8e195a"/>
<rect x="503.04" y="74.98" width="4.69" height="4.33" fill="#481444"/>
<rect x="506.73" y="74.98" width="4.69" height="4.33" fill="#801958"/>
<rect x="344.50" y="78.32" width="4.69" height="4.33" fill="#92195b"/>
<rect x="348.19" y="78.32" width="4.69" height="4.33" fill="#98185b"/>
<rect x="351.87" y="78.32" width="4.69" height="4.33" fill="#7a1956"/>
<rect x="355.56" y="78.32" width="4.69" height="4.33" fill="#e31054"/>
<rect x="359.25" y="78.32" width="4.69" height="4.33" fill="#1c092a"/>
<rect x="362.94" y="78.32" width="4.69" height="4.33" fill="#ff895d"/>
<rect x="366.62" y="78.32" width="4.69" height="4.33" fill="#ff3c3c"/>
<rect x="370.31" y="78.32" width="12.06" height="4.33" fill="#8e195a"/>
<rect x="381.37" y="78.32" width="4.69" height="4.33" fill="#ff333f"/>
<rect x="385.06" y="78.32" width="19.43" height="4.33" fill="#8e195a"/>
<rect x="403.49" y="78.32" width="4.69" height="4.33" fill="#ffc7a6"/>
<rect x="407.18" y="78.32" width="4.69" height="4.33" fill="#e31054"/>
<rect x="410.87" y="78.32" width="4.69" height="4.33" fill="#ff3c3c"/>
<rect x="414.55" y="78.32" width="4.69" height="4.33" fill="#ff333f"/>
<rect x="418.24" y="78.32" width="8.37" height="4.33" fill="#ffd3b8"/>
<rect x="425.61" y="78.32" width="4.69" height="4.33" fill="#ffebdd"/>
<rect x="429.30" y="78.32" width="4.69" height="4.33" fill="#ffd3b8"/>
<rect x="432.99" y="78.32" width="71.05" height="4.33" fill="#8e195a"/>
<rect x="503.04" y="78.32" width="4.69" height="4.33" fill="#481444"/>
<rect x="506.73" y="78.32" width="4.69" height="4.33" fill="#801958"/>
<rect x="344.50" y="81.66" width="4.69" height="4.33" fill="#8e195a"/>
<rect x="348.19" y="81.66" width="4.69" height="4.33" fill="#98185b"/>
<rect x="351.87" y="81.66" width="4.69" height="4.33" fill="#7a1956"/>
<rect x="355.56" y="81.66" width="4.69" height="4.33" fill="#e31054"/>
<rect x="359.25" y="81.66" width="4.69" height="4.33" fill="#1c092a"/>
<rect x="362.94" y="81.66" width="4.69" height="4.33" fill="#ff895d"/>
<rect x="366.62" y="81.66" width="4.69" height="4.33" fill="#ff3c3c"/>
<rect x="370.31" y="81.66" width="12.06" height="4.33" fill="#8e195a"/>
<rect x="381.37" y="81.66" width="4.69" height="4.33" fill="#ff333f"/>
<rect x="385.06" y="81.66" width="19.43" height="4.33" fill="#8e195a"/>
<rect x="403.49" y="81.66" width="4.69" height="4.33" fill="#ffc7a6"/>
<rect x="407.18" y="81.66" width="4.69" height="4.33" fill="#e31054"/>
<rect x="410.87" y="81.66" width="8.37" height="4.33" fill="#ff573d"/>
<rect x="418.24" y="81.66" width="12.06" height="4.33" fill="#ffd3b8"/>
<rect x="429.30" y="81.66" width="4.69" height="4.33" fill="#ffebdd"/>
<rect x="432.99" y="81.66" width="71.05" height="4.33" fill="#8e195a"/>
<rect x="503.04" y="81.66" width="4.69" height="4.33" fill="#481444"/>
<rect x="506.73" y="81.66" width="4.69" height="4.33" fill="#801958"/>
<rect x="344.50" y="84.99" width="23.12" height="4.33" fill="#8e195a"/>
<rect x="366.62" y="84.99" width="4.69" height="4.33" fill="#92195b"/>
<rect x="370.31" y="84.99" width="63.68" height="4.33" fill="#8e195a"/>
<rect x="432.99" y="84.99" width="4.69" height="4.33" fill="#ffebdd"/>
<rect x="436.68" y="84.99" width="4.69" height="4.33" fill="#ffb38a"/>
<rect x="440.36" y="84.99" width="8.37" height="4.33" fill="#ff895d"/>
<rect x="447.74" y="84.99" width="4.69" height="4.33" fill="#d60f58"/>
<rect x="451.42" y="84.99" width="4.69" height="4.33" fill="#bd135c"/>
<rect x="455.11" y="84.99" width="52.62" height="4.33" fill="#8e195a"/>
<rect x="506.73" y="84.99" width="4.69" height="4.33" fill="#801958"/>
<rect x="344.50" y="88.33" width="23.12" height="4.33" fill="#8e195a"/>
<rect x="366.62" y="88.33" width="4.69" height="4.33" fill="#92195b"/>
<rect x="370.31" y="88.33" width="63.68" height="4.33" fill="#8e195a"/>
<rect x="432.99" y="88.33" width="4.69" height="4.33" fill="#ffb38a"/>
<rect x="436.68" y="88.33" width="4.69" height="4.33" fill="#ffebdd"/>
<rect x="440.36" y="88.33" width="8.37" height="4.33" fill="#ff895d"/>
<rect x="447.74" y="88.33" width="4.69" height="4.33" fill="#ed1450"/>
<rect x="451.42" y="88.33" width="4.69" height="4.33" fill="#e31054"/>
<rect x="455.11" y="88.33" width="52.62" height="4.33" fill="#8e195a"/>
<rect x="506.73" y="88.33" width="4.69" height="4.33" fill="#801958"/>
<rect x="344.50" y="91.66" width="23.12" height="4.33" fill="#8e195a"/>
<rect x="366.62" y="91.66" width="4.69" height="4.33" fill="#a2175c"/>
<rect x="370.31" y="91.66" width="12.06" height="4.33" fill="#8e195a"/>
<rect x="381.37" y="91.66" width="4.69" height="4.33" fill="#96185b"/>
<rect x="385.06" y="91.66" width="48.93" height="4.33" fill="#8e195a"/>
<rect x="432.99" y="91.66" width="8.37" height="4.33" fill="#ff895d"/>
<rect x="440.36" y="91.66" width="4.69" height="4.33" fill="#ffebdd"/>
<rect x="444.05" y="91.66" width="4.69" height="4.33" fill="#ffc7a6"/>
<rect x="447.74" y="91.66" width="8.37" height="4.33" fill="#d60f58"/>
<rect x="455.11" y="91.66" width="52.62" height="4.33" fill="#8e195a"/>
<rect x="506.73" y="91.66" width="4.69" height="4.33" fill="#801958"/>
<rect x="344.50" y="95.00" width="23.12" height="4.33" fill="#8e195a"/>
<rect x="366.62" y="95.00" width="4.69" height="4.33" fill="#92195b"/>
<rect x="370.31" y="95.00" width="63.68" height="4.33" fill="#8e195a"/>
<rect x="432.99" y="95.00" width="8.37" height="4.33" fill="#ff895d"/>
<rect x="440.36" y="95.00" width="4.69" height="4.33" fill="#ffc7a6"/>
<rect x="444.05" y="95.00" width="4.69" height="4.33" fill="#ffebdd"/>
<rect x="447.74" y="95.00" width="8.37" height="4.33" fill="#d60f58"/>
<rect x="455.11" y="95.00" width="52.62" height="4.33" fill="#8e195a"/>
<rect x="506.73" y="95.00" width="4.69" height="4.33" fill="#801958"/>
<rect x="344.50" y="98.33" width="23.12" height="4.33" fill="#8e195a"/>
<rect x="366.62" y="98.33" width="4.69" height="4.33" fill="#92195b"/>
<rect x="370.31" y="98.33" width="63.68" height="4.33" fill="#8e195a"/>
<rect x="432.99" y="98.33" width="4.69" height="4.33" fill="#d60f58"/>
<rect x="436.68" y="98.33" width="4.69" height="4.33" fill="#ed1450"/>
<rect x="440.36" y="98.33" width="8.37" height="4.33" fill="#d60f58"/>
<rect x="447.74" y="98.33" width="4.69" height="4.33" fill="#ffebdd"/>
<rect x="451.42" y="98.33" width="4.69" height="4.33" fill="#ffc7a6"/>
<rect x="455.11" y="98.33" width="52.62" height="4.33" fill="#8e195a"/>
<rect x="506.73" y="98.33" width="4.69" height="4.33" fill="#801958"/>
<rect x="344.50" y="101.67" width="23.12" height="4.33" fill="#8e195a"/>
<rect x="366.62" y="101.67" width="4.69" height="4.33" fill="#92195b"/>
<rect x="370.31" y="101.67" width="63.68" height="4.33" fill="#8e195a"/>
<rect x="432.99" y="101.67" width="4.69" height="4.33" fill="#bd135c"/>
<rect x="436.68" y="101.67" width="4.69" height="4.33" fill="#e31054"/>
<rect x="440.36" y="101.67" width="8.37" height="4.33" fill="#d60f58"/>
<rect x="447.74" y="101.67" width="4.69" height="4.33" fill="#ffc7a6"/>
<rect x="451.42" y="101.67" width="4.69" height="4.33" fill="#ffebdd"/>
<rect x="455.11" y="101.67" width="52.62" height="4.33" fill="#8e195a"/>
<rect x="506.73" y="101.67" width="4.69" height="4.33" fill="#801958"/>
<rect x="344.50" y="105.00" width="23.12" height="4.33" fill="#8e195a"/>
<rect x="366.62" y="105.00" width="4.69" height="4.33" fill="#92195b"/>
<rect x="370.31" y="105.00" width="85.80" height="4.33" fill="#8e195a"/>
<rect x="455.11" y="105.00" width="4.69" height="4.33" fill="#ffebdd"/>
<rect x="458.80" y="105.00" width="12.06" height="4.33" fill="#ff9e72"/>
<rect x="469.86" y="105.00" width="4.69" height="4.33" fill="#d60f58"/>
<rect x="473.54" y="105.00" width="4.69" height="4.33" fill="#bd135c"/>
<rect x="477.23" y="105.00" width="4.69" height="4.33" fill="#ff9e72"/>
<rect x="480.92" y="105.00" width="4.69" height="4.33" fill="#ffb38a"/>
<rect x="484.61" y="105.00" width="4.69" height="4.33" fill="#ed1450"/>
<rect x="488.29" y="105.00" width="4.69" height="4.33" fill="#ff895d"/>
<rect x="491.98" y="105.00" width="15.75" height="4.33" fill="#8e195a"/>
<rect x="506.73" y="105.00" width="4.69" height="4.33" fill="#801958"/>
<rect x="344.50" y="108.34" width="23.12" height="4.33" fill="#8e195a"/>
<rect x="366.62" y="108.34" width="4.69" height="4.33" fill="#92195b"/>
<rect x="370.31" y="108.34" width="85.80" height="4.33" fill="#8e195a"/>
<rect x="455.11" y="108.34" width="4.69" height="4.33" fill="#ff9e72"/>
<rect x="458.80" y="108.34" width="4.69" height="4.33" fill="#ffebdd"/>
<rect x="462.48" y="108.34" width="4.69" height="4.33" fill="#ffc7a6"/>
<rect x="466.17" y="108.34" width="4.69" height="4.33" fill="#ffb38a"/>
<rect x="469.86" y="108.34" width="4.69" height="4.33" fill="#ff573d"/>
<rect x="473.54" y="108.34" width="4.69" height="4.33" fill="#d60f58"/>
<rect x="477.23" y="108.34" width="4.69" height="4.33" fill="#ffc7a6"/>
<rect x="480.92" y="108.34" width="4.69" height="4.33" fill="#ffb38a"/>
<rect x="484.61" y="108.34" width="4.69" height="4.33" fill="#fe2546"/>
<rect x="488.29" y="108.34" width="4.69" height="4.33" fill="#ff895d"/>
<rect x="491.98" y="108.34" width="15.75" height="4.33" fill="#8e195a"/>
<rect x="506.73" y="108.34" width="4.69" height="4.33" fill="#801958"/>
<rect x="344.50" y="111.67" width="23.12" height="4.33" fill="#8e195a"/>
<rect x="366.62" y="111.67" width="4.69" height="4.33" fill="#92195b"/>
<rect x="370.31" y="111.67" width="85.80" height="4.33" fill="#8e195a"/>
<rect x="455.11" y="111.67" width="4.69" height="4.33" fill="#ff9e72"/>
<rect x="458.80" y="111.67" width="4.69" height="4.33" fill="#ffc7a6"/>
<rect x="462.48" y="111.67" width="4.69" height="4.33" fill="#ffebdd"/>
<rect x="466.17" y="111.67" width="4.69" height="4.33" fill="#ffc7a6"/>
<rect x="469.86" y="111.67" width="4.69" height="4.33" fill="#ed1450"/>
<rect x="473.54" y="111.67" width="4.69" height="4.33" fill="#d60f58"/>
<rect x="477.23" y="111.67" width="4.69" height="4.33" fill="#ffc7a6"/>
<rect x="480.92" y="111.67" width="4.69" height="4.33" fill="#ffb38a"/>
<rect x="484.61" y="111.67" width="4.69" height="4.33" fill="#fe2546"/>
<rect x="488.29" y="111.67" width="4.69" height="4.33" fill="#ff9e72"/>
<rect x="491.98" y="111.67" width="15.75" height="4.33" fill="#8e195a"/>
<rect x="506.73" y="111.67" width="4.69" height="4.33" fill="#801958"/>
<rect x="344.50" y="115.00" width="23.12" height="4.33" fill="#8e195a"/>
<rect x="366.62" y="115.00" width="4.69" height="4.33" fill="#92195b"/>
<rect x="370.31" y="115.00" width="85.80" height="4.33" fill="#8e195a"/>
<rect x="455.11" y="115.00" width="4.69" height="4.33" fill="#ff9e72"/>
<rect x="458.80" y="115.00" width="4.69" height="4.33" fill="#ffb38a"/>
<rect x="462.48" y="115.00" width="4.69" height="4.33" fill="#ffc7a6"/>
<rect x="466.17" y="115.00" width="4.69" height="4.33" fill="#ffebdd"/>
<rect x="469.86" y="115.00" width="4.69" height="4.33" fill="#ed1450"/>
<rect x="473.54" y="115.00" width="4.69" height="4.33" fill="#d60f58"/>
<rect x="477.23" y="115.00" width="4.69" height="4.33" fill="#ffc7a6"/>
<rect x="480.92" y="115.00" width="4.69" height="4.33" fill="#ffb38a"/>
<rect x="484.61" y="115.00" width="4.69" height="4.33" fill="#fe2546"/>
<rect x="488.29" y="115.00" width="4.69" height="4.33" fill="#ff9e72"/>
<rect x="491.98" y="115.00" width="15.75" height="4.33" fill="#8e195a"/>
<rect x="506.73" y="115.00" width="4.69" height="4.33" fill="#801958"/>
<rect x="344.50" y="118.34" width="23.12" height="4.33" fill="#8e195a"/>
<rect x="366.62" y="118.34" width="4.69" height="4.33" fill="#92195b"/>
<rect x="370.31" y="118.34" width="85.80" height="4.33" fill="#8e195a"/>
<rect x="455.11" y="118.34" width="4.69" height="4.33" fill="#d60f58"/>
<rect x="458.80" y="118.34" width="4.69" height="4.33" fill="#ff573d"/>
<rect x="462.48" y="118.34" width="8.37" height="4.33" fill="#ed1450"/>
<rect x="469.86" y="118.34" width="4.69" height="4.33" fill="#ffebdd"/>
<rect x="473.54" y="118.34" width="4.69" height="4.33" fill="#a2175c"/>
<rect x="477.23" y="118.34" width="8.37" height="4.33" fill="#ed1450"/>
<rect x="484.61" y="118.34" width="4.69" height="4.33" fill="#ffc7a6"/>
<rect x="488.29" y="118.34" width="4.69" height="4.33" fill="#bd135c"/>
<rect x="491.98" y="118.34" width="15.75" height="4.33" fill="#8e195a"/>
<rect x="506.73" y="118.34" width="4.69" height="4.33" fill="#801958"/>
<rect x="344.50" y="121.67" width="23.12" height="4.33" fill="#8e195a"/>
<rect x="366.62" y="121.67" width="4.69" height="4.33" fill="#92195b"/>
<rect x="370.31" y="121.67" width="15.75" height="4.33" fill="#8e195a"/>
<rect x="385.06" y="121.67" width="8.37" height="4.33" fill="#96185b"/>
<rect x="392.43" y="121.67" width="8.37" height="4.33" fill="#8e195a"/>
<rect x="399.81" y="121.67" width="4.69" height="4.33" fill="#a2175c"/>
<rect x="403.49" y="121.67" width="52.62" height="4.33" fill="#8e195a"/>
<rect x="455.11" y="121.67" width="4.69" height="4.33" fill="#bd135c"/>
<rect x="458.80" y="121.67" width="12.06" height="4.33" fill="#d60f58"/>
<rect x="469.86" y="121.67" width="4.69" height="4.33" fill="#a2175c"/>
<rect x="473.54" y="121.67" width="4.69" height="4.33" fill="#ffebdd"/>
<rect x="477.23" y="121.67" width="30.50" height="4.33" fill="#8e195a"/>
<rect x="506.73" y="121.67" width="4.69" height="4.33" fill="#801958"/>
<rect x="344.50" y="125.01" width="23.12" height="4.33" fill="#8e195a"/>
<rect x="366.62" y="125.01" width="4.69" height="4.33" fill="#92195b"/>
<rect x="370.31" y="125.01" width="85.80" height="4.33" fill="#8e195a"/>
<rect x="455.11" y="125.01" width="4.69" height="4.33" fill="#ff9e72"/>
<rect x="458.80" y="125.01" width="12.06" height="4.33" fill="#ffc7a6"/>
<rect x="469.86" y="125.01" width="4.69" height="4.33" fill="#ed1450"/>
<rect x="473.54" y="125.01" width="4.69" height="4.33" fill="#8e195a"/>
<rect x="477.23" y="125.01" width="4.69" height="4.33" fill="#ffebdd"/>
<rect x="480.92" y="125.01" width="4.69" height="4.33" fill="#ffb38a"/>
<rect x="484.61" y="125.01" width="4.69" height="4.33" fill="#fe2546"/>
<rect x="488.29" y="125.01" width="4.69" height="4.33" fill="#ff9e72"/>
<rect x="491.98" y="125.01" width="15.75" height="4.33" fill="#8e195a"/>
<rect x="506.73" y="125.01" width="4.69" height="4.33" fill="#801958"/>
<rect x="344.50" y="128.34" width="23.12" height="4.33" fill="#8e195a"/>
<rect x="366.62" y="128.34" width="4.69" height="4.33" fill="#92195b"/>
<rect x="370.31" y="128.34" width="85.80" height="4.33" fill="#8e195a"/>
<rect x="455.11" y="128.34" width="15.75" height="4.33" fill="#ffb38a"/>
<rect x="469.86" y="128.34" width="4.69" height="4.33" fill="#ed1450"/>
<rect x="473.54" y="128.34" width="4.69" height="4.33" fill="#8e195a"/>
<rect x="477.23" y="128.34" width="4.69" height="4.33" fill="#ffb38a"/>
<rect x="480.92" y="128.34" width="4.69" height="4.33" fill="#ffebdd"/>
<rect x="484.61" y="128.34" width="4.69" height="4.33" fill="#d60f58"/>
<rect x="488.29" y="128.34" width="4.69" height="4.33" fill="#ff9e72"/>
<rect x="491.98" y="128.34" width="15.75" height="4.33" fill="#8e195a"/>
<rect x="506.73" y="128.34" width="4.69" height="4.33" fill="#801958"/>
<rect x="344.50" y="131.68" width="23.12" height="4.33" fill="#8e195a"/>
<rect x="366.62" y="131.68" width="4.69" height="4.33" fill="#92195b"/>
<rect x="370.31" y="131.68" width="85.80" height="4.33" fill="#8e195a"/>
<rect x="455.11" y="131.68" width="4.69" height="4.33" fill="#ed1450"/>
<rect x="458.80" y="131.68" width="12.06" height="4.33" fill="#fe2546"/>
<rect x="469.86" y="131.68" width="4.69" height="4.33" fill="#ffc7a6"/>
<rect x="473.54" y="131.68" width="4.69" height="4.33" fill="#8e195a"/>
<rect x="477.23" y="131.68" width="4.69" height="4.33" fill="#fe2546"/>
<rect x="480.92" y="131.68" width="4.69" height="4.33" fill="#d60f58"/>
<rect x="484.61" y="131.68" width="4.69" height="4.33" fill="#ffebdd"/>
<rect x="488.29" y="131.68" width="4.69" height="4.33" fill="#bd135c"/>
<rect x="491.98" y="131.68" width="15.75" height="4.33" fill="#8e195a"/>
<rect x="506.73" y="131.68" width="4.69" height="4.33" fill="#801958"/>
<rect x="344.50" y="135.01" width="23.12" height="4.33" fill="#8e195a"/>
<rect x="366.62" y="135.01" width="4.69" height="4.33" fill="#92195b"/>
<rect x="370.31" y="135.01" width="85.80" height="4.33" fill="#8e195a"/>
<rect x="455.11" y="135.01" width="8.37" height="4.33" fill="#ff895d"/>
<rect x="462.48" y="135.01" width="8.37" height="4.33" fill="#ff9e72"/>
<rect x="469.86" y="135.01" width="4.69" height="4.33" fill="#bd135c"/>
<rect x="473.54" y="135.01" width="4.69" height="4.33" fill="#8e195a"/>
<rect x="477.23" y="135.01" width="8.37" height="4.33" fill="#ff9e72"/>
<rect x="484.61" y="135.01" width="4.69" height="4.33" fill="#bd135c"/>
<rect x="488.29" y="135.01" width="4.69" height="4.33" fill="#ffebdd"/>
<rect x="491.98" y="135.01" width="15.75" height="4.33" fill="#8e195a"/>
<rect x="506.73" y="135.01" width="4.69" height="4.33" fill="#801958"/>
<rect x="344.50" y="138.35" width="23.12" height="4.33" fill="#8e195a"/>
<rect x="366.62" y="138.35" width="4.69" height="4.33" fill="#92195b"/>
<rect x="370.31" y="138.35" width="19.43" height="4.33" fill="#8e195a"/>
<rect x="388.74" y="138.35" width="4.69" height="4.33" fill="#98185b"/>
<rect x="392.43" y="138.35" width="100.55" height="4.33" fill="#8e195a"/>
<rect x="491.98" y="138.35" width="4.69" height="4.33" fill="#ffebdd"/>
<rect x="495.67" y="138.35" width="4.69" height="4.33" fill="#fe2546"/>
<rect x="499.35" y="138.35" width="4.69" height="4.33" fill="#ff9e72"/>
<rect x="503.04" y="138.35" width="4.69" height="4.33" fill="#8e195a"/>
<rect x="506.73" y="138.35" width="4.69" height="4.33" fill="#801958"/>
<rect x="344.50" y="141.68" width="23.12" height="4.33" fill="#8e195a"/>
<rect x="366.62" y="141.68" width="4.69" height="4.33" fill="#92195b"/>
<rect x="370.31" y="141.68" width="12.06" height="4.33" fill="#8e195a"/>
<rect x="381.37" y="141.68" width="4.69" height="4.33" fill="#98185b"/>
<rect x="385.06" y="141.68" width="107.92" height="4.33" fill="#8e195a"/>
<rect x="491.98" y="141.68" width="4.69" height="4.33" fill="#fe2546"/>
<rect x="495.67" y="141.68" width="4.69" height="4.33" fill="#ffebdd"/>
<rect x="499.35" y="141.68" width="4.69" height="4.33" fill="#ff9e72"/>
<rect x="503.04" y="141.68" width="4.69" height="4.33" fill="#8e195a"/>
<rect x="506.73" y="141.68" width="4.69" height="4.33" fill="#801958"/>
<rect x="344.50" y="145.02" width="23.12" height="4.33" fill="#8e195a"/>
<rect x="366.62" y="145.02" width="4.69" height="4.33" fill="#92195b"/>
<rect x="370.31" y="145.02" width="122.67" height="4.33" fill="#8e195a"/>
<rect x="491.98" y="145.02" width="8.37" height="4.33" fill="#ff9e72"/>
<rect x="499.35" y="145.02" width="4.69" height="4.33" fill="#ffebdd"/>
<rect x="503.04" y="145.02" width="4.69" height="4.33" fill="#8e195a"/>
<rect x="506.73" y="145.02" width="4.69" height="4.33" fill="#801958"/>
<rect x="344.50" y="148.35" width="4.69" height="4.33" fill="#ff6240"/>
<rect x="348.19" y="148.35" width="8.37" height="4.33" fill="#8e195a"/>
<rect x="355.56" y="148.35" width="4.69" height="4.33" fill="#511648"/>
<rect x="359.25" y="148.35" width="4.69" height="4.33" fill="#3e133f"/>
<rect x="362.94" y="148.35" width="4.69" height="4.33" fill="#09041f"/>
<rect x="366.62" y="148.35" width="37.87" height="4.33" fill="#8e195a"/>
<rect x="403.49" y="148.35" width="4.69" height="4.33" fill="#4d1546"/>
<rect x="407.18" y="148.35" width="4.69" height="4.33" fill="#8e195a"/>
<rect x="410.87" y="148.35" width="4.69" height="4.33" fill="#651850"/>
<rect x="414.55" y="148.35" width="4.69" height="4.33" fill="#7a1956"/>
<rect x="418.24" y="148.35" width="15.75" height="4.33" fill="#481444"/>
<rect x="432.99" y="148.35" width="71.05" height="4.33" fill="#8e195a"/>
<rect x="503.04" y="148.35" width="4.69" height="4.33" fill="#ffebdd"/>
<rect x="506.73" y="148.35" width="4.69" height="4.33" fill="#351139"/>
<rect x="344.50" y="151.69" width="37.87" height="4.33" fill="#801958"/>
<rect x="381.37" y="151.69" width="4.69" height="4.33" fill="#c1125c"/>
<rect x="385.06" y="151.69" width="30.50" height="4.33" fill="#801958"/>
<rect x="414.55" y="151.69" width="8.37" height="4.33" fill="#711954"/>
<rect x="421.93" y="151.69" width="82.11" height="4.33" fill="#801958"/>
<rect x="503.04" y="151.69" width="4.69" height="4.33" fill="#351139"/>
<rect x="506.73" y="151.69" width="4.69" height="4.33" fill="#ffebdd"/>
</g>
<rect x="510.41" y="3.95" width="1.3" height="153.07" fill="#fff"/>
<rect x="343.50" y="154.35" width="168.91" height="2.17" fill="#fff"/>
<g font-family="'DejaVu Sans', 'Liberation Sans', sans-serif" font-size="5.82" fill="#151515" stroke="#151515" stroke-width="0.08">
<text transform="translate(340.50 8.36) scale(1 0.968)" text-anchor="end">ts</text>
<text transform="translate(348.15 159.85) scale(1 0.968) rotate(-90)" text-anchor="end">ts</text>
<text transform="translate(340.50 15.03) scale(1 0.968)" text-anchor="end">src_port</text>
<text transform="translate(355.52 159.85) scale(1 0.968) rotate(-90)" text-anchor="end">src_port</text>
<text transform="translate(340.50 21.70) scale(1 0.968)" text-anchor="end">dst_port</text>
<text transform="translate(362.90 159.85) scale(1 0.968) rotate(-90)" text-anchor="end">dst_port</text>
<text transform="translate(340.50 28.37) scale(1 0.968)" text-anchor="end">service</text>
<text transform="translate(370.27 159.85) scale(1 0.968) rotate(-90)" text-anchor="end">service</text>
<text transform="translate(340.50 35.04) scale(1 0.968)" text-anchor="end">src_bytes</text>
<text transform="translate(377.64 159.85) scale(1 0.968) rotate(-90)" text-anchor="end">src_bytes</text>
<text transform="translate(340.50 41.71) scale(1 0.968)" text-anchor="end">conn_state</text>
<text transform="translate(385.02 159.85) scale(1 0.968) rotate(-90)" text-anchor="end">conn_state</text>
<text transform="translate(340.50 48.38) scale(1 0.968)" text-anchor="end">src_pkts</text>
<text transform="translate(392.39 159.85) scale(1 0.968) rotate(-90)" text-anchor="end">src_pkts</text>
<text transform="translate(340.50 55.05) scale(1 0.968)" text-anchor="end">dst_pkts</text>
<text transform="translate(399.77 159.85) scale(1 0.968) rotate(-90)" text-anchor="end">dst_pkts</text>
<text transform="translate(340.50 61.72) scale(1 0.968)" text-anchor="end">dns_query</text>
<text transform="translate(407.14 159.85) scale(1 0.968) rotate(-90)" text-anchor="end">dns_query</text>
<text transform="translate(340.50 68.39) scale(1 0.968)" text-anchor="end">dns_qtype</text>
<text transform="translate(414.51 159.85) scale(1 0.968) rotate(-90)" text-anchor="end">dns_qtype</text>
<text transform="translate(340.50 75.06) scale(1 0.968)" text-anchor="end">dns_AA</text>
<text transform="translate(421.89 159.85) scale(1 0.968) rotate(-90)" text-anchor="end">dns_AA</text>
<text transform="translate(340.50 81.73) scale(1 0.968)" text-anchor="end">dns_RA</text>
<text transform="translate(429.26 159.85) scale(1 0.968) rotate(-90)" text-anchor="end">dns_RA</text>
<text transform="translate(340.50 88.40) scale(1 0.968)" text-anchor="end">ssl_version</text>
<text transform="translate(436.64 159.85) scale(1 0.968) rotate(-90)" text-anchor="end">ssl_version</text>
<text transform="translate(340.50 95.07) scale(1 0.968)" text-anchor="end">ssl_resumed</text>
<text transform="translate(444.01 159.85) scale(1 0.968) rotate(-90)" text-anchor="end">ssl_resumed</text>
<text transform="translate(340.50 101.74) scale(1 0.968)" text-anchor="end">ssl_subject</text>
<text transform="translate(451.38 159.85) scale(1 0.968) rotate(-90)" text-anchor="end">ssl_subject</text>
<text transform="translate(340.50 108.41) scale(1 0.968)" text-anchor="end">http_trans_depth</text>
<text transform="translate(458.76 159.85) scale(1 0.968) rotate(-90)" text-anchor="end">http_trans_depth</text>
<text transform="translate(340.50 115.08) scale(1 0.968)" text-anchor="end">http_uri</text>
<text transform="translate(466.13 159.85) scale(1 0.968) rotate(-90)" text-anchor="end">http_uri</text>
<text transform="translate(340.50 121.75) scale(1 0.968)" text-anchor="end">http_request_body_len</text>
<text transform="translate(473.51 159.85) scale(1 0.968) rotate(-90)" text-anchor="end">http_request_body_len</text>
<text transform="translate(340.50 128.42) scale(1 0.968)" text-anchor="end">http_status_code</text>
<text transform="translate(480.88 159.85) scale(1 0.968) rotate(-90)" text-anchor="end">http_status_code</text>
<text transform="translate(340.50 135.09) scale(1 0.968)" text-anchor="end">http_orig_mime_types</text>
<text transform="translate(488.25 159.85) scale(1 0.968) rotate(-90)" text-anchor="end">http_orig_mime_types</text>
<text transform="translate(340.50 141.76) scale(1 0.968)" text-anchor="end">weird_name</text>
<text transform="translate(495.63 159.85) scale(1 0.968) rotate(-90)" text-anchor="end">weird_name</text>
<text transform="translate(340.50 148.43) scale(1 0.968)" text-anchor="end">weird_notice</text>
<text transform="translate(503.00 159.85) scale(1 0.968) rotate(-90)" text-anchor="end">weird_notice</text>
<text transform="translate(340.50 155.10) scale(1 0.968)" text-anchor="end">type</text>
<text transform="translate(510.38 159.85) scale(1 0.968) rotate(-90)" text-anchor="end">type</text>
<rect x="520.60" y="4.95" width="7.30" height="150.07" fill="url(#rk)" stroke="none"/>
<rect x="519.60" y="154.35" width="9.30" height="2.17" fill="#fff" stroke="none"/>
<text transform="translate(531.90 6.70) scale(1 0.968)">1.0</text>
<text transform="translate(531.90 27.68) scale(1 0.968)">0.8</text>
<text transform="translate(531.90 48.66) scale(1 0.968)">0.6</text>
<text transform="translate(531.90 69.64) scale(1 0.968)">0.4</text>
<text transform="translate(531.90 90.62) scale(1 0.968)">0.2</text>
<text transform="translate(531.90 111.60) scale(1 0.968)">0.0</text>
<text transform="translate(531.90 132.58) scale(1 0.968)">−0.2</text>
<text transform="translate(531.90 153.56) scale(1 0.968)">−0.4</text>
</g>
<path d="M342.50 6.62h2.00M346.34 154.35v2.00M342.50 13.29h2.00M353.72 154.35v2.00M342.50 19.96h2.00M361.09 154.35v2.00M342.50 26.63h2.00M368.47 154.35v2.00M342.50 33.30h2.00M375.84 154.35v2.00M342.50 39.97h2.00M383.21 154.35v2.00M342.50 46.64h2.00M390.59 154.35v2.00M342.50 53.31h2.00M397.96 154.35v2.00M342.50 59.98h2.00M405.34 154.35v2.00M342.50 66.65h2.00M412.71 154.35v2.00M342.50 73.32h2.00M420.08 154.35v2.00M342.50 79.99h2.00M427.46 154.35v2.00M342.50 86.66h2.00M434.83 154.35v2.00M342.50 93.33h2.00M442.21 154.35v2.00M342.50 100.00h2.00M449.58 154.35v2.00M342.50 106.67h2.00M456.95 154.35v2.00M342.50 113.34h2.00M464.33 154.35v2.00M342.50 120.01h2.00M471.70 154.35v2.00M342.50 126.68h2.00M479.08 154.35v2.00M342.50 133.35h2.00M486.45 154.35v2.00M342.50 140.02h2.00M493.82 154.35v2.00M342.50 146.69h2.00M501.20 154.35v2.00M342.50 153.36h2.00M508.57 154.35v2.00M527.90 4.95h2.00M527.90 25.93h2.00M527.90 46.91h2.00M527.90 67.89h2.00M527.90 88.87h2.00M527.90 109.85h2.00M527.90 130.83h2.00M527.90 151.81h2.00" stroke="#151515" stroke-width="0.50" fill="none"/>
<g font-family="'Liberation Serif', serif" font-size="12.60" fill="#000">
<text x="124.20" y="240.90" text-anchor="middle">(<tspan font-weight="bold">a</tspan>)</text>
<text x="410.30" y="240.90" text-anchor="middle">(<tspan font-weight="bold">b</tspan>)</text>
</g>
</svg>
</body></html>
